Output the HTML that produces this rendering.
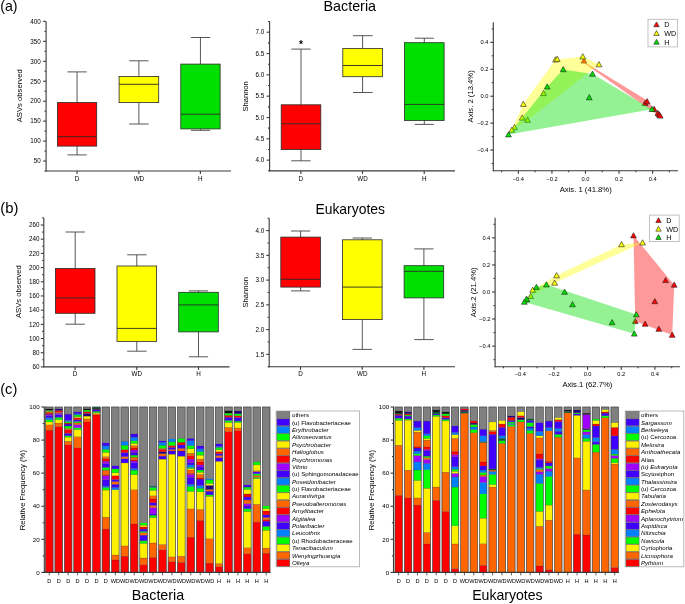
<!DOCTYPE html>
<html lang="en"><head><meta charset="utf-8"><title>Figure</title>
<style>
html,body{margin:0;padding:0;background:#fff;}
body{width:685px;height:604px;overflow:hidden;font-family:"Liberation Sans", Arial, sans-serif;}
svg{display:block;font-family:"Liberation Sans", Arial, sans-serif;}
</style></head><body>
<svg width="685" height="604" viewBox="0 0 685 604">
<defs><filter id="soft" x="0" y="0" width="100%" height="100%" filterUnits="userSpaceOnUse" color-interpolation-filters="sRGB"><feGaussianBlur stdDeviation="0.36"/></filter></defs>
<rect width="685" height="604" fill="#ffffff"/>
<g filter="url(#soft)">
<rect width="685" height="604" fill="#ffffff"/>
<line x1="77.05" y1="71.90" x2="77.05" y2="102.60" stroke="#444" stroke-width="0.9"/>
<line x1="77.05" y1="146.10" x2="77.05" y2="154.90" stroke="#444" stroke-width="0.9"/>
<line x1="67.40" y1="71.90" x2="86.70" y2="71.90" stroke="#444" stroke-width="0.9"/>
<line x1="67.40" y1="154.90" x2="86.70" y2="154.90" stroke="#444" stroke-width="0.9"/>
<rect x="57.40" y="102.60" width="39.30" height="43.50" fill="#ff0000" stroke="#2a2a2a" stroke-width="0.8"/>
<line x1="57.40" y1="136.70" x2="96.70" y2="136.70" stroke="#2a2a2a" stroke-width="0.9"/>
<line x1="138.90" y1="60.80" x2="138.90" y2="76.40" stroke="#444" stroke-width="0.9"/>
<line x1="138.90" y1="102.60" x2="138.90" y2="124.00" stroke="#444" stroke-width="0.9"/>
<line x1="129.20" y1="60.80" x2="148.60" y2="60.80" stroke="#444" stroke-width="0.9"/>
<line x1="129.20" y1="124.00" x2="148.60" y2="124.00" stroke="#444" stroke-width="0.9"/>
<rect x="119.10" y="76.40" width="39.60" height="26.20" fill="#ffff00" stroke="#2a2a2a" stroke-width="0.8"/>
<line x1="119.10" y1="84.30" x2="158.70" y2="84.30" stroke="#2a2a2a" stroke-width="0.9"/>
<line x1="200.45" y1="37.50" x2="200.45" y2="64.10" stroke="#444" stroke-width="0.9"/>
<line x1="200.45" y1="128.90" x2="200.45" y2="130.30" stroke="#444" stroke-width="0.9"/>
<line x1="190.90" y1="37.50" x2="210.20" y2="37.50" stroke="#444" stroke-width="0.9"/>
<line x1="190.90" y1="130.30" x2="210.20" y2="130.30" stroke="#444" stroke-width="0.9"/>
<rect x="180.80" y="64.10" width="39.30" height="64.80" fill="#00e000" stroke="#2a2a2a" stroke-width="0.8"/>
<line x1="180.80" y1="114.20" x2="220.10" y2="114.20" stroke="#2a2a2a" stroke-width="0.9"/>
<line x1="46.10" y1="21.40" x2="46.10" y2="171.45" stroke="#3a3a3a" stroke-width="1.1"/>
<line x1="45.65" y1="171.00" x2="231.00" y2="171.00" stroke="#3a3a3a" stroke-width="1.1"/>
<line x1="43.10" y1="21.40" x2="46.10" y2="21.40" stroke="#3a3a3a" stroke-width="1.1"/>
<text x="40.70" y="23.65" font-size="6.3" text-anchor="end" fill="#000000">400</text>
<line x1="43.10" y1="41.35" x2="46.10" y2="41.35" stroke="#3a3a3a" stroke-width="1.1"/>
<text x="40.70" y="43.60" font-size="6.3" text-anchor="end" fill="#000000">350</text>
<line x1="43.10" y1="61.30" x2="46.10" y2="61.30" stroke="#3a3a3a" stroke-width="1.1"/>
<text x="40.70" y="63.55" font-size="6.3" text-anchor="end" fill="#000000">300</text>
<line x1="43.10" y1="81.25" x2="46.10" y2="81.25" stroke="#3a3a3a" stroke-width="1.1"/>
<text x="40.70" y="83.50" font-size="6.3" text-anchor="end" fill="#000000">250</text>
<line x1="43.10" y1="101.20" x2="46.10" y2="101.20" stroke="#3a3a3a" stroke-width="1.1"/>
<text x="40.70" y="103.45" font-size="6.3" text-anchor="end" fill="#000000">200</text>
<line x1="43.10" y1="121.15" x2="46.10" y2="121.15" stroke="#3a3a3a" stroke-width="1.1"/>
<text x="40.70" y="123.40" font-size="6.3" text-anchor="end" fill="#000000">150</text>
<line x1="43.10" y1="141.10" x2="46.10" y2="141.10" stroke="#3a3a3a" stroke-width="1.1"/>
<text x="40.70" y="143.35" font-size="6.3" text-anchor="end" fill="#000000">100</text>
<line x1="43.10" y1="161.05" x2="46.10" y2="161.05" stroke="#3a3a3a" stroke-width="1.1"/>
<text x="40.70" y="163.30" font-size="6.3" text-anchor="end" fill="#000000">50</text>
<line x1="44.50" y1="31.38" x2="46.10" y2="31.38" stroke="#3a3a3a" stroke-width="1.1"/>
<line x1="44.50" y1="51.33" x2="46.10" y2="51.33" stroke="#3a3a3a" stroke-width="1.1"/>
<line x1="44.50" y1="71.28" x2="46.10" y2="71.28" stroke="#3a3a3a" stroke-width="1.1"/>
<line x1="44.50" y1="91.22" x2="46.10" y2="91.22" stroke="#3a3a3a" stroke-width="1.1"/>
<line x1="44.50" y1="111.18" x2="46.10" y2="111.18" stroke="#3a3a3a" stroke-width="1.1"/>
<line x1="44.50" y1="131.12" x2="46.10" y2="131.12" stroke="#3a3a3a" stroke-width="1.1"/>
<line x1="44.50" y1="151.08" x2="46.10" y2="151.08" stroke="#3a3a3a" stroke-width="1.1"/>
<line x1="44.50" y1="171.03" x2="46.10" y2="171.03" stroke="#3a3a3a" stroke-width="1.1"/>
<line x1="77.00" y1="171.00" x2="77.00" y2="174.00" stroke="#3a3a3a" stroke-width="1.1"/>
<text x="77.00" y="180.95" font-size="6.3" text-anchor="middle" fill="#000000">D</text>
<line x1="138.90" y1="171.00" x2="138.90" y2="174.00" stroke="#3a3a3a" stroke-width="1.1"/>
<text x="138.90" y="180.95" font-size="6.3" text-anchor="middle" fill="#000000">WD</text>
<line x1="200.40" y1="171.00" x2="200.40" y2="174.00" stroke="#3a3a3a" stroke-width="1.1"/>
<text x="200.40" y="180.95" font-size="6.3" text-anchor="middle" fill="#000000">H</text>
<text x="22.50" y="95.80" font-size="7.7" text-anchor="middle" fill="#000000" transform="rotate(-90 22.50 95.80)">ASVs observed</text>
<line x1="301.00" y1="49.10" x2="301.00" y2="104.80" stroke="#444" stroke-width="0.9"/>
<line x1="301.00" y1="149.60" x2="301.00" y2="160.80" stroke="#444" stroke-width="0.9"/>
<line x1="291.30" y1="49.10" x2="310.60" y2="49.10" stroke="#444" stroke-width="0.9"/>
<line x1="291.30" y1="160.80" x2="310.60" y2="160.80" stroke="#444" stroke-width="0.9"/>
<rect x="281.20" y="104.80" width="39.60" height="44.80" fill="#ff0000" stroke="#2a2a2a" stroke-width="0.8"/>
<line x1="281.20" y1="123.70" x2="320.80" y2="123.70" stroke="#2a2a2a" stroke-width="0.9"/>
<line x1="362.60" y1="35.70" x2="362.60" y2="48.40" stroke="#444" stroke-width="0.9"/>
<line x1="362.60" y1="76.70" x2="362.60" y2="92.50" stroke="#444" stroke-width="0.9"/>
<line x1="353.00" y1="35.70" x2="372.60" y2="35.70" stroke="#444" stroke-width="0.9"/>
<line x1="353.00" y1="92.50" x2="372.60" y2="92.50" stroke="#444" stroke-width="0.9"/>
<rect x="342.80" y="48.40" width="39.60" height="28.30" fill="#ffff00" stroke="#2a2a2a" stroke-width="0.8"/>
<line x1="342.80" y1="65.50" x2="382.40" y2="65.50" stroke="#2a2a2a" stroke-width="0.9"/>
<line x1="424.30" y1="38.20" x2="424.30" y2="42.70" stroke="#444" stroke-width="0.9"/>
<line x1="424.30" y1="120.50" x2="424.30" y2="124.40" stroke="#444" stroke-width="0.9"/>
<line x1="414.70" y1="38.20" x2="433.90" y2="38.20" stroke="#444" stroke-width="0.9"/>
<line x1="414.70" y1="124.40" x2="433.90" y2="124.40" stroke="#444" stroke-width="0.9"/>
<rect x="404.50" y="42.70" width="39.60" height="77.80" fill="#00e000" stroke="#2a2a2a" stroke-width="0.8"/>
<line x1="404.50" y1="104.40" x2="444.10" y2="104.40" stroke="#2a2a2a" stroke-width="0.9"/>
<line x1="269.60" y1="21.60" x2="269.60" y2="171.35" stroke="#3a3a3a" stroke-width="1.1"/>
<line x1="269.15" y1="170.90" x2="455.00" y2="170.90" stroke="#3a3a3a" stroke-width="1.1"/>
<line x1="266.60" y1="32.20" x2="269.60" y2="32.20" stroke="#3a3a3a" stroke-width="1.1"/>
<text x="264.20" y="34.45" font-size="6.3" text-anchor="end" fill="#000000">7.0</text>
<line x1="266.60" y1="53.53" x2="269.60" y2="53.53" stroke="#3a3a3a" stroke-width="1.1"/>
<text x="264.20" y="55.78" font-size="6.3" text-anchor="end" fill="#000000">6.5</text>
<line x1="266.60" y1="74.85" x2="269.60" y2="74.85" stroke="#3a3a3a" stroke-width="1.1"/>
<text x="264.20" y="77.10" font-size="6.3" text-anchor="end" fill="#000000">6.0</text>
<line x1="266.60" y1="96.17" x2="269.60" y2="96.17" stroke="#3a3a3a" stroke-width="1.1"/>
<text x="264.20" y="98.42" font-size="6.3" text-anchor="end" fill="#000000">5.5</text>
<line x1="266.60" y1="117.50" x2="269.60" y2="117.50" stroke="#3a3a3a" stroke-width="1.1"/>
<text x="264.20" y="119.75" font-size="6.3" text-anchor="end" fill="#000000">5.0</text>
<line x1="266.60" y1="138.82" x2="269.60" y2="138.82" stroke="#3a3a3a" stroke-width="1.1"/>
<text x="264.20" y="141.07" font-size="6.3" text-anchor="end" fill="#000000">4.5</text>
<line x1="266.60" y1="160.15" x2="269.60" y2="160.15" stroke="#3a3a3a" stroke-width="1.1"/>
<text x="264.20" y="162.40" font-size="6.3" text-anchor="end" fill="#000000">4.0</text>
<line x1="268.00" y1="21.54" x2="269.60" y2="21.54" stroke="#3a3a3a" stroke-width="1.1"/>
<line x1="268.00" y1="42.86" x2="269.60" y2="42.86" stroke="#3a3a3a" stroke-width="1.1"/>
<line x1="268.00" y1="64.19" x2="269.60" y2="64.19" stroke="#3a3a3a" stroke-width="1.1"/>
<line x1="268.00" y1="85.51" x2="269.60" y2="85.51" stroke="#3a3a3a" stroke-width="1.1"/>
<line x1="268.00" y1="106.84" x2="269.60" y2="106.84" stroke="#3a3a3a" stroke-width="1.1"/>
<line x1="268.00" y1="128.16" x2="269.60" y2="128.16" stroke="#3a3a3a" stroke-width="1.1"/>
<line x1="268.00" y1="149.49" x2="269.60" y2="149.49" stroke="#3a3a3a" stroke-width="1.1"/>
<line x1="268.00" y1="170.81" x2="269.60" y2="170.81" stroke="#3a3a3a" stroke-width="1.1"/>
<line x1="300.90" y1="170.90" x2="300.90" y2="173.90" stroke="#3a3a3a" stroke-width="1.1"/>
<text x="300.90" y="180.95" font-size="6.3" text-anchor="middle" fill="#000000">D</text>
<line x1="362.50" y1="170.90" x2="362.50" y2="173.90" stroke="#3a3a3a" stroke-width="1.1"/>
<text x="362.50" y="180.95" font-size="6.3" text-anchor="middle" fill="#000000">WD</text>
<line x1="424.20" y1="170.90" x2="424.20" y2="173.90" stroke="#3a3a3a" stroke-width="1.1"/>
<text x="424.20" y="180.95" font-size="6.3" text-anchor="middle" fill="#000000">H</text>
<text x="247.60" y="96.40" font-size="7.6" text-anchor="middle" fill="#000000" transform="rotate(-90 247.60 96.40)">Shannon</text>
<text x="300.90" y="48.00" font-size="10" text-anchor="middle" fill="#000000" font-weight="bold">*</text>
<line x1="75.20" y1="232.00" x2="75.20" y2="268.50" stroke="#444" stroke-width="0.9"/>
<line x1="75.20" y1="313.30" x2="75.20" y2="324.20" stroke="#444" stroke-width="0.9"/>
<line x1="65.50" y1="232.00" x2="84.80" y2="232.00" stroke="#444" stroke-width="0.9"/>
<line x1="65.50" y1="324.20" x2="84.80" y2="324.20" stroke="#444" stroke-width="0.9"/>
<rect x="55.40" y="268.50" width="39.60" height="44.80" fill="#ff0000" stroke="#2a2a2a" stroke-width="0.8"/>
<line x1="55.40" y1="297.90" x2="95.00" y2="297.90" stroke="#2a2a2a" stroke-width="0.9"/>
<line x1="136.80" y1="254.80" x2="136.80" y2="266.00" stroke="#444" stroke-width="0.9"/>
<line x1="136.80" y1="341.40" x2="136.80" y2="351.20" stroke="#444" stroke-width="0.9"/>
<line x1="127.20" y1="254.80" x2="146.50" y2="254.80" stroke="#444" stroke-width="0.9"/>
<line x1="127.20" y1="351.20" x2="146.50" y2="351.20" stroke="#444" stroke-width="0.9"/>
<rect x="117.00" y="266.00" width="39.60" height="75.40" fill="#ffff00" stroke="#2a2a2a" stroke-width="0.8"/>
<line x1="117.00" y1="328.40" x2="156.60" y2="328.40" stroke="#2a2a2a" stroke-width="0.9"/>
<line x1="198.50" y1="290.90" x2="198.50" y2="292.30" stroke="#444" stroke-width="0.9"/>
<line x1="198.50" y1="331.90" x2="198.50" y2="356.80" stroke="#444" stroke-width="0.9"/>
<line x1="188.90" y1="290.90" x2="208.10" y2="290.90" stroke="#444" stroke-width="0.9"/>
<line x1="188.90" y1="356.80" x2="208.10" y2="356.80" stroke="#444" stroke-width="0.9"/>
<rect x="178.70" y="292.30" width="39.60" height="39.60" fill="#00e000" stroke="#2a2a2a" stroke-width="0.8"/>
<line x1="178.70" y1="304.90" x2="218.30" y2="304.90" stroke="#2a2a2a" stroke-width="0.9"/>
<line x1="43.80" y1="217.90" x2="43.80" y2="367.35" stroke="#3a3a3a" stroke-width="1.1"/>
<line x1="43.35" y1="366.90" x2="229.50" y2="366.90" stroke="#3a3a3a" stroke-width="1.1"/>
<line x1="40.80" y1="225.00" x2="43.80" y2="225.00" stroke="#3a3a3a" stroke-width="1.1"/>
<text x="39.40" y="227.25" font-size="6.3" text-anchor="end" fill="#000000">260</text>
<line x1="40.80" y1="239.19" x2="43.80" y2="239.19" stroke="#3a3a3a" stroke-width="1.1"/>
<text x="39.40" y="241.44" font-size="6.3" text-anchor="end" fill="#000000">240</text>
<line x1="40.80" y1="253.38" x2="43.80" y2="253.38" stroke="#3a3a3a" stroke-width="1.1"/>
<text x="39.40" y="255.63" font-size="6.3" text-anchor="end" fill="#000000">220</text>
<line x1="40.80" y1="267.57" x2="43.80" y2="267.57" stroke="#3a3a3a" stroke-width="1.1"/>
<text x="39.40" y="269.82" font-size="6.3" text-anchor="end" fill="#000000">200</text>
<line x1="40.80" y1="281.76" x2="43.80" y2="281.76" stroke="#3a3a3a" stroke-width="1.1"/>
<text x="39.40" y="284.01" font-size="6.3" text-anchor="end" fill="#000000">180</text>
<line x1="40.80" y1="295.95" x2="43.80" y2="295.95" stroke="#3a3a3a" stroke-width="1.1"/>
<text x="39.40" y="298.20" font-size="6.3" text-anchor="end" fill="#000000">160</text>
<line x1="40.80" y1="310.14" x2="43.80" y2="310.14" stroke="#3a3a3a" stroke-width="1.1"/>
<text x="39.40" y="312.39" font-size="6.3" text-anchor="end" fill="#000000">140</text>
<line x1="40.80" y1="324.33" x2="43.80" y2="324.33" stroke="#3a3a3a" stroke-width="1.1"/>
<text x="39.40" y="326.58" font-size="6.3" text-anchor="end" fill="#000000">120</text>
<line x1="40.80" y1="338.52" x2="43.80" y2="338.52" stroke="#3a3a3a" stroke-width="1.1"/>
<text x="39.40" y="340.77" font-size="6.3" text-anchor="end" fill="#000000">100</text>
<line x1="40.80" y1="352.71" x2="43.80" y2="352.71" stroke="#3a3a3a" stroke-width="1.1"/>
<text x="39.40" y="354.96" font-size="6.3" text-anchor="end" fill="#000000">80</text>
<line x1="40.80" y1="366.90" x2="43.80" y2="366.90" stroke="#3a3a3a" stroke-width="1.1"/>
<text x="39.40" y="369.15" font-size="6.3" text-anchor="end" fill="#000000">60</text>
<line x1="42.20" y1="217.90" x2="43.80" y2="217.90" stroke="#3a3a3a" stroke-width="1.1"/>
<line x1="42.20" y1="232.09" x2="43.80" y2="232.09" stroke="#3a3a3a" stroke-width="1.1"/>
<line x1="42.20" y1="246.28" x2="43.80" y2="246.28" stroke="#3a3a3a" stroke-width="1.1"/>
<line x1="42.20" y1="260.47" x2="43.80" y2="260.47" stroke="#3a3a3a" stroke-width="1.1"/>
<line x1="42.20" y1="274.66" x2="43.80" y2="274.66" stroke="#3a3a3a" stroke-width="1.1"/>
<line x1="42.20" y1="288.85" x2="43.80" y2="288.85" stroke="#3a3a3a" stroke-width="1.1"/>
<line x1="42.20" y1="303.04" x2="43.80" y2="303.04" stroke="#3a3a3a" stroke-width="1.1"/>
<line x1="42.20" y1="317.23" x2="43.80" y2="317.23" stroke="#3a3a3a" stroke-width="1.1"/>
<line x1="42.20" y1="331.42" x2="43.80" y2="331.42" stroke="#3a3a3a" stroke-width="1.1"/>
<line x1="42.20" y1="345.61" x2="43.80" y2="345.61" stroke="#3a3a3a" stroke-width="1.1"/>
<line x1="42.20" y1="359.80" x2="43.80" y2="359.80" stroke="#3a3a3a" stroke-width="1.1"/>
<line x1="75.10" y1="366.90" x2="75.10" y2="369.90" stroke="#3a3a3a" stroke-width="1.1"/>
<text x="75.10" y="376.45" font-size="6.3" text-anchor="middle" fill="#000000">D</text>
<line x1="136.80" y1="366.90" x2="136.80" y2="369.90" stroke="#3a3a3a" stroke-width="1.1"/>
<text x="136.80" y="376.45" font-size="6.3" text-anchor="middle" fill="#000000">WD</text>
<line x1="198.50" y1="366.90" x2="198.50" y2="369.90" stroke="#3a3a3a" stroke-width="1.1"/>
<text x="198.50" y="376.45" font-size="6.3" text-anchor="middle" fill="#000000">H</text>
<text x="21.10" y="291.60" font-size="7.7" text-anchor="middle" fill="#000000" transform="rotate(-90 21.10 291.60)">ASVs observed</text>
<line x1="300.60" y1="231.00" x2="300.60" y2="237.10" stroke="#444" stroke-width="0.9"/>
<line x1="300.60" y1="287.10" x2="300.60" y2="290.90" stroke="#444" stroke-width="0.9"/>
<line x1="291.00" y1="231.00" x2="310.20" y2="231.00" stroke="#444" stroke-width="0.9"/>
<line x1="291.00" y1="290.90" x2="310.20" y2="290.90" stroke="#444" stroke-width="0.9"/>
<rect x="280.80" y="237.10" width="39.60" height="50.00" fill="#ff0000" stroke="#2a2a2a" stroke-width="0.8"/>
<line x1="280.80" y1="279.30" x2="320.40" y2="279.30" stroke="#2a2a2a" stroke-width="0.9"/>
<line x1="362.30" y1="238.00" x2="362.30" y2="239.80" stroke="#444" stroke-width="0.9"/>
<line x1="362.30" y1="319.60" x2="362.30" y2="349.40" stroke="#444" stroke-width="0.9"/>
<line x1="352.60" y1="238.00" x2="371.90" y2="238.00" stroke="#444" stroke-width="0.9"/>
<line x1="352.60" y1="349.40" x2="371.90" y2="349.40" stroke="#444" stroke-width="0.9"/>
<rect x="342.50" y="239.80" width="39.60" height="79.80" fill="#ffff00" stroke="#2a2a2a" stroke-width="0.8"/>
<line x1="342.50" y1="287.10" x2="382.10" y2="287.10" stroke="#2a2a2a" stroke-width="0.9"/>
<line x1="423.90" y1="248.90" x2="423.90" y2="265.70" stroke="#444" stroke-width="0.9"/>
<line x1="423.90" y1="297.90" x2="423.90" y2="339.60" stroke="#444" stroke-width="0.9"/>
<line x1="414.30" y1="248.90" x2="433.60" y2="248.90" stroke="#444" stroke-width="0.9"/>
<line x1="414.30" y1="339.60" x2="433.60" y2="339.60" stroke="#444" stroke-width="0.9"/>
<rect x="404.10" y="265.70" width="39.60" height="32.20" fill="#00e000" stroke="#2a2a2a" stroke-width="0.8"/>
<line x1="404.10" y1="271.30" x2="443.70" y2="271.30" stroke="#2a2a2a" stroke-width="0.9"/>
<line x1="269.20" y1="218.20" x2="269.20" y2="367.25" stroke="#3a3a3a" stroke-width="1.1"/>
<line x1="268.75" y1="366.80" x2="455.00" y2="366.80" stroke="#3a3a3a" stroke-width="1.1"/>
<line x1="266.20" y1="230.60" x2="269.20" y2="230.60" stroke="#3a3a3a" stroke-width="1.1"/>
<text x="264.30" y="232.85" font-size="6.3" text-anchor="end" fill="#000000">4.0</text>
<line x1="266.20" y1="255.35" x2="269.20" y2="255.35" stroke="#3a3a3a" stroke-width="1.1"/>
<text x="264.30" y="257.60" font-size="6.3" text-anchor="end" fill="#000000">3.5</text>
<line x1="266.20" y1="280.10" x2="269.20" y2="280.10" stroke="#3a3a3a" stroke-width="1.1"/>
<text x="264.30" y="282.35" font-size="6.3" text-anchor="end" fill="#000000">3.0</text>
<line x1="266.20" y1="304.85" x2="269.20" y2="304.85" stroke="#3a3a3a" stroke-width="1.1"/>
<text x="264.30" y="307.10" font-size="6.3" text-anchor="end" fill="#000000">2.5</text>
<line x1="266.20" y1="329.60" x2="269.20" y2="329.60" stroke="#3a3a3a" stroke-width="1.1"/>
<text x="264.30" y="331.85" font-size="6.3" text-anchor="end" fill="#000000">2.0</text>
<line x1="266.20" y1="354.35" x2="269.20" y2="354.35" stroke="#3a3a3a" stroke-width="1.1"/>
<text x="264.30" y="356.60" font-size="6.3" text-anchor="end" fill="#000000">1.5</text>
<line x1="267.60" y1="218.22" x2="269.20" y2="218.22" stroke="#3a3a3a" stroke-width="1.1"/>
<line x1="267.60" y1="242.97" x2="269.20" y2="242.97" stroke="#3a3a3a" stroke-width="1.1"/>
<line x1="267.60" y1="267.73" x2="269.20" y2="267.73" stroke="#3a3a3a" stroke-width="1.1"/>
<line x1="267.60" y1="292.48" x2="269.20" y2="292.48" stroke="#3a3a3a" stroke-width="1.1"/>
<line x1="267.60" y1="317.23" x2="269.20" y2="317.23" stroke="#3a3a3a" stroke-width="1.1"/>
<line x1="267.60" y1="341.98" x2="269.20" y2="341.98" stroke="#3a3a3a" stroke-width="1.1"/>
<line x1="267.60" y1="366.73" x2="269.20" y2="366.73" stroke="#3a3a3a" stroke-width="1.1"/>
<line x1="300.50" y1="366.80" x2="300.50" y2="369.80" stroke="#3a3a3a" stroke-width="1.1"/>
<text x="300.50" y="376.45" font-size="6.3" text-anchor="middle" fill="#000000">D</text>
<line x1="362.20" y1="366.80" x2="362.20" y2="369.80" stroke="#3a3a3a" stroke-width="1.1"/>
<text x="362.20" y="376.45" font-size="6.3" text-anchor="middle" fill="#000000">WD</text>
<line x1="423.90" y1="366.80" x2="423.90" y2="369.80" stroke="#3a3a3a" stroke-width="1.1"/>
<text x="423.90" y="376.45" font-size="6.3" text-anchor="middle" fill="#000000">H</text>
<text x="247.60" y="292.30" font-size="7.6" text-anchor="middle" fill="#000000" transform="rotate(-90 247.60 292.30)">Shannon</text>
<text x="0.20" y="10.80" font-size="14.2" text-anchor="start" fill="#000000">(a)</text>
<text x="0.20" y="213.30" font-size="14.9" text-anchor="start" fill="#000000">(b)</text>
<text x="0.20" y="394.00" font-size="14.7" text-anchor="start" fill="#000000">(c)</text>
<text x="349.80" y="10.90" font-size="14.3" text-anchor="middle" fill="#000000">Bacteria</text>
<text x="350.20" y="213.80" font-size="13.9" text-anchor="middle" fill="#000000">Eukaryotes</text>
<text x="158.00" y="600.00" font-size="14.3" text-anchor="middle" fill="#000000">Bacteria</text>
<text x="507.40" y="600.00" font-size="14.1" text-anchor="middle" fill="#000000">Eukaryotes</text>
<polygon points="583.6,61.4 647.3,100.5 660.6,117.1 584.2,63.2" fill="#ff0000" fill-opacity="0.4"/>
<path d="M583.90 57.90 L586.80 63.12 L581.00 63.12 Z" fill="#ff0000" stroke="#222" stroke-width="0.6" stroke-linejoin="miter"/>
<path d="M645.10 100.30 L648.00 105.52 L642.20 105.52 Z" fill="#ff0000" stroke="#222" stroke-width="0.6" stroke-linejoin="miter"/>
<path d="M647.10 98.60 L650.00 103.82 L644.20 103.82 Z" fill="#ff0000" stroke="#222" stroke-width="0.6" stroke-linejoin="miter"/>
<path d="M654.20 106.30 L657.10 111.52 L651.30 111.52 Z" fill="#ff0000" stroke="#222" stroke-width="0.6" stroke-linejoin="miter"/>
<path d="M657.90 110.30 L660.80 115.52 L655.00 115.52 Z" fill="#ff0000" stroke="#222" stroke-width="0.6" stroke-linejoin="miter"/>
<path d="M659.10 111.70 L662.00 116.92 L656.20 116.92 Z" fill="#ff0000" stroke="#222" stroke-width="0.6" stroke-linejoin="miter"/>
<path d="M660.20 112.90 L663.10 118.12 L657.30 118.12 Z" fill="#ff0000" stroke="#222" stroke-width="0.6" stroke-linejoin="miter"/>
<polygon points="511.9,130.0 523.3,104.1 555.5,59.7 582.8,56.6 599.0,64.5 527.6,120.0" fill="#ffff00" fill-opacity="0.4"/>
<path d="M555.50 56.80 L558.40 62.02 L552.60 62.02 Z" fill="#ffff00" stroke="#222" stroke-width="0.6" stroke-linejoin="miter"/>
<path d="M557.20 56.20 L560.10 61.42 L554.30 61.42 Z" fill="#ffff00" stroke="#222" stroke-width="0.6" stroke-linejoin="miter"/>
<path d="M582.80 53.70 L585.70 58.92 L579.90 58.92 Z" fill="#ffff00" stroke="#222" stroke-width="0.6" stroke-linejoin="miter"/>
<path d="M599.00 61.60 L601.90 66.82 L596.10 66.82 Z" fill="#ffff00" stroke="#222" stroke-width="0.6" stroke-linejoin="miter"/>
<path d="M543.50 90.40 L546.40 95.62 L540.60 95.62 Z" fill="#ffff00" stroke="#222" stroke-width="0.6" stroke-linejoin="miter"/>
<path d="M523.30 101.20 L526.20 106.42 L520.40 106.42 Z" fill="#ffff00" stroke="#222" stroke-width="0.6" stroke-linejoin="miter"/>
<path d="M522.20 114.90 L525.10 120.12 L519.30 120.12 Z" fill="#ffff00" stroke="#222" stroke-width="0.6" stroke-linejoin="miter"/>
<path d="M527.60 117.10 L530.50 122.32 L524.70 122.32 Z" fill="#ffff00" stroke="#222" stroke-width="0.6" stroke-linejoin="miter"/>
<path d="M514.50 124.50 L517.40 129.72 L511.60 129.72 Z" fill="#ffff00" stroke="#222" stroke-width="0.6" stroke-linejoin="miter"/>
<path d="M511.90 127.10 L514.80 132.32 L509.00 132.32 Z" fill="#ffff00" stroke="#222" stroke-width="0.6" stroke-linejoin="miter"/>
<polygon points="508.5,134.6 547.2,86.7 563.2,69.4 592.5,73.9 652.0,109.2" fill="#00e000" fill-opacity="0.42"/>
<path d="M563.20 66.50 L566.10 71.72 L560.30 71.72 Z" fill="#00e000" stroke="#222" stroke-width="0.6" stroke-linejoin="miter"/>
<path d="M592.50 71.00 L595.40 76.22 L589.60 76.22 Z" fill="#00e000" stroke="#222" stroke-width="0.6" stroke-linejoin="miter"/>
<path d="M547.20 83.80 L550.10 89.02 L544.30 89.02 Z" fill="#00e000" stroke="#222" stroke-width="0.6" stroke-linejoin="miter"/>
<path d="M589.30 94.60 L592.20 99.82 L586.40 99.82 Z" fill="#00e000" stroke="#222" stroke-width="0.6" stroke-linejoin="miter"/>
<path d="M652.00 106.30 L654.90 111.52 L649.10 111.52 Z" fill="#00e000" stroke="#222" stroke-width="0.6" stroke-linejoin="miter"/>
<path d="M508.50 131.70 L511.40 136.92 L505.60 136.92 Z" fill="#00e000" stroke="#222" stroke-width="0.6" stroke-linejoin="miter"/>
<line x1="493.30" y1="22.20" x2="493.30" y2="171.15" stroke="#3a3a3a" stroke-width="1.1"/>
<line x1="492.85" y1="170.70" x2="678.00" y2="170.70" stroke="#3a3a3a" stroke-width="1.1"/>
<line x1="490.30" y1="150.04" x2="493.30" y2="150.04" stroke="#3a3a3a" stroke-width="1.1"/>
<text x="488.40" y="152.14" font-size="5.7" text-anchor="end" fill="#000000">−0.4</text>
<line x1="518.38" y1="170.70" x2="518.38" y2="173.70" stroke="#3a3a3a" stroke-width="1.1"/>
<text x="518.38" y="180.60" font-size="5.7" text-anchor="middle" fill="#000000">−0.4</text>
<line x1="490.30" y1="123.12" x2="493.30" y2="123.12" stroke="#3a3a3a" stroke-width="1.1"/>
<text x="488.40" y="125.22" font-size="5.7" text-anchor="end" fill="#000000">−0.2</text>
<line x1="551.94" y1="170.70" x2="551.94" y2="173.70" stroke="#3a3a3a" stroke-width="1.1"/>
<text x="551.94" y="180.60" font-size="5.7" text-anchor="middle" fill="#000000">−0.2</text>
<line x1="490.30" y1="96.20" x2="493.30" y2="96.20" stroke="#3a3a3a" stroke-width="1.1"/>
<text x="488.40" y="98.30" font-size="5.7" text-anchor="end" fill="#000000">0.0</text>
<line x1="585.50" y1="170.70" x2="585.50" y2="173.70" stroke="#3a3a3a" stroke-width="1.1"/>
<text x="585.50" y="180.60" font-size="5.7" text-anchor="middle" fill="#000000">0.0</text>
<line x1="490.30" y1="69.28" x2="493.30" y2="69.28" stroke="#3a3a3a" stroke-width="1.1"/>
<text x="488.40" y="71.38" font-size="5.7" text-anchor="end" fill="#000000">0.2</text>
<line x1="619.06" y1="170.70" x2="619.06" y2="173.70" stroke="#3a3a3a" stroke-width="1.1"/>
<text x="619.06" y="180.60" font-size="5.7" text-anchor="middle" fill="#000000">0.2</text>
<line x1="490.30" y1="42.36" x2="493.30" y2="42.36" stroke="#3a3a3a" stroke-width="1.1"/>
<text x="488.40" y="44.46" font-size="5.7" text-anchor="end" fill="#000000">0.4</text>
<line x1="652.62" y1="170.70" x2="652.62" y2="173.70" stroke="#3a3a3a" stroke-width="1.1"/>
<text x="652.62" y="180.60" font-size="5.7" text-anchor="middle" fill="#000000">0.4</text>
<line x1="491.70" y1="163.50" x2="493.30" y2="163.50" stroke="#3a3a3a" stroke-width="1.1"/>
<line x1="501.60" y1="170.70" x2="501.60" y2="172.30" stroke="#3a3a3a" stroke-width="1.1"/>
<line x1="491.70" y1="136.58" x2="493.30" y2="136.58" stroke="#3a3a3a" stroke-width="1.1"/>
<line x1="535.16" y1="170.70" x2="535.16" y2="172.30" stroke="#3a3a3a" stroke-width="1.1"/>
<line x1="491.70" y1="109.66" x2="493.30" y2="109.66" stroke="#3a3a3a" stroke-width="1.1"/>
<line x1="568.72" y1="170.70" x2="568.72" y2="172.30" stroke="#3a3a3a" stroke-width="1.1"/>
<line x1="491.70" y1="82.74" x2="493.30" y2="82.74" stroke="#3a3a3a" stroke-width="1.1"/>
<line x1="602.28" y1="170.70" x2="602.28" y2="172.30" stroke="#3a3a3a" stroke-width="1.1"/>
<line x1="491.70" y1="55.82" x2="493.30" y2="55.82" stroke="#3a3a3a" stroke-width="1.1"/>
<line x1="635.84" y1="170.70" x2="635.84" y2="172.30" stroke="#3a3a3a" stroke-width="1.1"/>
<line x1="491.70" y1="28.90" x2="493.30" y2="28.90" stroke="#3a3a3a" stroke-width="1.1"/>
<line x1="669.40" y1="170.70" x2="669.40" y2="172.30" stroke="#3a3a3a" stroke-width="1.1"/>
<text x="585.70" y="192.00" font-size="7.7" text-anchor="middle" fill="#000000">Axis. 1 (41.8%)</text>
<text x="473.20" y="96.30" font-size="7.7" text-anchor="middle" fill="#000000" transform="rotate(-90 473.20 96.30)">Axis. 2 (13.4%)</text>
<rect x="648" y="19.3" width="29.4" height="27.6" fill="#fff" stroke="#b4b4b4" stroke-width="0.8"/>
<path d="M656.50 21.90 L659.20 26.76 L653.80 26.76 Z" fill="#ff0000" stroke="#222" stroke-width="0.6" stroke-linejoin="miter"/>
<text x="664.20" y="27.20" font-size="7.2" text-anchor="start" fill="#000000">D</text>
<path d="M656.50 30.60 L659.20 35.46 L653.80 35.46 Z" fill="#ffff00" stroke="#222" stroke-width="0.6" stroke-linejoin="miter"/>
<text x="664.20" y="35.90" font-size="7.2" text-anchor="start" fill="#000000">WD</text>
<path d="M656.50 39.30 L659.20 44.16 L653.80 44.16 Z" fill="#00e000" stroke="#222" stroke-width="0.6" stroke-linejoin="miter"/>
<text x="664.20" y="44.60" font-size="7.2" text-anchor="start" fill="#000000">H</text>
<polygon points="633.5,235.6 674.2,284.9 672.2,335.0 635.2,321.3" fill="#ff0000" fill-opacity="0.4"/>
<path d="M633.50 232.70 L636.40 237.92 L630.60 237.92 Z" fill="#ff0000" stroke="#222" stroke-width="0.6" stroke-linejoin="miter"/>
<path d="M665.60 277.40 L668.50 282.62 L662.70 282.62 Z" fill="#ff0000" stroke="#222" stroke-width="0.6" stroke-linejoin="miter"/>
<path d="M674.20 282.00 L677.10 287.22 L671.30 287.22 Z" fill="#ff0000" stroke="#222" stroke-width="0.6" stroke-linejoin="miter"/>
<path d="M654.80 298.50 L657.70 303.72 L651.90 303.72 Z" fill="#ff0000" stroke="#222" stroke-width="0.6" stroke-linejoin="miter"/>
<path d="M635.20 318.40 L638.10 323.62 L632.30 323.62 Z" fill="#ff0000" stroke="#222" stroke-width="0.6" stroke-linejoin="miter"/>
<path d="M645.10 321.00 L648.00 326.22 L642.20 326.22 Z" fill="#ff0000" stroke="#222" stroke-width="0.6" stroke-linejoin="miter"/>
<path d="M658.80 326.10 L661.70 331.32 L655.90 331.32 Z" fill="#ff0000" stroke="#222" stroke-width="0.6" stroke-linejoin="miter"/>
<path d="M672.20 332.10 L675.10 337.32 L669.30 337.32 Z" fill="#ff0000" stroke="#222" stroke-width="0.6" stroke-linejoin="miter"/>
<polygon points="527.0,299.7 532.7,290.0 556.6,275.5 621.5,244.4 642.6,242.7 554.6,282.9 530.7,296.2" fill="#ffff00" fill-opacity="0.4"/>
<path d="M621.50 241.50 L624.40 246.72 L618.60 246.72 Z" fill="#ffff00" stroke="#222" stroke-width="0.6" stroke-linejoin="miter"/>
<path d="M642.60 239.80 L645.50 245.02 L639.70 245.02 Z" fill="#ffff00" stroke="#222" stroke-width="0.6" stroke-linejoin="miter"/>
<path d="M556.60 272.60 L559.50 277.82 L553.70 277.82 Z" fill="#ffff00" stroke="#222" stroke-width="0.6" stroke-linejoin="miter"/>
<path d="M554.60 280.00 L557.50 285.22 L551.70 285.22 Z" fill="#ffff00" stroke="#222" stroke-width="0.6" stroke-linejoin="miter"/>
<path d="M532.70 287.10 L535.60 292.32 L529.80 292.32 Z" fill="#ffff00" stroke="#222" stroke-width="0.6" stroke-linejoin="miter"/>
<path d="M530.70 293.30 L533.60 298.52 L527.80 298.52 Z" fill="#ffff00" stroke="#222" stroke-width="0.6" stroke-linejoin="miter"/>
<path d="M527.00 296.80 L529.90 302.02 L524.10 302.02 Z" fill="#ffff00" stroke="#222" stroke-width="0.6" stroke-linejoin="miter"/>
<polygon points="524.4,301.9 536.4,287.1 546.4,284.6 636.3,314.5 634.3,333.8" fill="#00e000" fill-opacity="0.42"/>
<path d="M536.40 284.20 L539.30 289.42 L533.50 289.42 Z" fill="#00e000" stroke="#222" stroke-width="0.6" stroke-linejoin="miter"/>
<path d="M546.40 281.70 L549.30 286.92 L543.50 286.92 Z" fill="#00e000" stroke="#222" stroke-width="0.6" stroke-linejoin="miter"/>
<path d="M564.60 289.10 L567.50 294.32 L561.70 294.32 Z" fill="#00e000" stroke="#222" stroke-width="0.6" stroke-linejoin="miter"/>
<path d="M572.50 301.60 L575.40 306.82 L569.60 306.82 Z" fill="#00e000" stroke="#222" stroke-width="0.6" stroke-linejoin="miter"/>
<path d="M612.10 319.50 L615.00 324.72 L609.20 324.72 Z" fill="#00e000" stroke="#222" stroke-width="0.6" stroke-linejoin="miter"/>
<path d="M636.30 311.60 L639.20 316.82 L633.40 316.82 Z" fill="#00e000" stroke="#222" stroke-width="0.6" stroke-linejoin="miter"/>
<path d="M634.30 330.90 L637.20 336.12 L631.40 336.12 Z" fill="#00e000" stroke="#222" stroke-width="0.6" stroke-linejoin="miter"/>
<path d="M526.40 296.20 L529.30 301.42 L523.50 301.42 Z" fill="#00e000" stroke="#222" stroke-width="0.6" stroke-linejoin="miter"/>
<path d="M524.40 299.00 L527.30 304.22 L521.50 304.22 Z" fill="#00e000" stroke="#222" stroke-width="0.6" stroke-linejoin="miter"/>
<line x1="495.10" y1="217.80" x2="495.10" y2="367.15" stroke="#3a3a3a" stroke-width="1.1"/>
<line x1="494.65" y1="366.70" x2="680.00" y2="366.70" stroke="#3a3a3a" stroke-width="1.1"/>
<line x1="492.10" y1="346.12" x2="495.10" y2="346.12" stroke="#3a3a3a" stroke-width="1.1"/>
<text x="490.30" y="348.22" font-size="5.7" text-anchor="end" fill="#000000">−0.4</text>
<line x1="520.32" y1="366.70" x2="520.32" y2="369.70" stroke="#3a3a3a" stroke-width="1.1"/>
<text x="520.32" y="376.40" font-size="5.7" text-anchor="middle" fill="#000000">−0.4</text>
<line x1="492.10" y1="319.06" x2="495.10" y2="319.06" stroke="#3a3a3a" stroke-width="1.1"/>
<text x="490.30" y="321.16" font-size="5.7" text-anchor="end" fill="#000000">−0.2</text>
<line x1="553.96" y1="366.70" x2="553.96" y2="369.70" stroke="#3a3a3a" stroke-width="1.1"/>
<text x="553.96" y="376.40" font-size="5.7" text-anchor="middle" fill="#000000">−0.2</text>
<line x1="492.10" y1="292.00" x2="495.10" y2="292.00" stroke="#3a3a3a" stroke-width="1.1"/>
<text x="490.30" y="294.10" font-size="5.7" text-anchor="end" fill="#000000">0.0</text>
<line x1="587.60" y1="366.70" x2="587.60" y2="369.70" stroke="#3a3a3a" stroke-width="1.1"/>
<text x="587.60" y="376.40" font-size="5.7" text-anchor="middle" fill="#000000">0.0</text>
<line x1="492.10" y1="264.94" x2="495.10" y2="264.94" stroke="#3a3a3a" stroke-width="1.1"/>
<text x="490.30" y="267.04" font-size="5.7" text-anchor="end" fill="#000000">0.2</text>
<line x1="621.24" y1="366.70" x2="621.24" y2="369.70" stroke="#3a3a3a" stroke-width="1.1"/>
<text x="621.24" y="376.40" font-size="5.7" text-anchor="middle" fill="#000000">0.2</text>
<line x1="492.10" y1="237.88" x2="495.10" y2="237.88" stroke="#3a3a3a" stroke-width="1.1"/>
<text x="490.30" y="239.98" font-size="5.7" text-anchor="end" fill="#000000">0.4</text>
<line x1="654.88" y1="366.70" x2="654.88" y2="369.70" stroke="#3a3a3a" stroke-width="1.1"/>
<text x="654.88" y="376.40" font-size="5.7" text-anchor="middle" fill="#000000">0.4</text>
<line x1="493.50" y1="359.65" x2="495.10" y2="359.65" stroke="#3a3a3a" stroke-width="1.1"/>
<line x1="503.50" y1="366.70" x2="503.50" y2="368.30" stroke="#3a3a3a" stroke-width="1.1"/>
<line x1="493.50" y1="332.59" x2="495.10" y2="332.59" stroke="#3a3a3a" stroke-width="1.1"/>
<line x1="537.14" y1="366.70" x2="537.14" y2="368.30" stroke="#3a3a3a" stroke-width="1.1"/>
<line x1="493.50" y1="305.53" x2="495.10" y2="305.53" stroke="#3a3a3a" stroke-width="1.1"/>
<line x1="570.78" y1="366.70" x2="570.78" y2="368.30" stroke="#3a3a3a" stroke-width="1.1"/>
<line x1="493.50" y1="278.47" x2="495.10" y2="278.47" stroke="#3a3a3a" stroke-width="1.1"/>
<line x1="604.42" y1="366.70" x2="604.42" y2="368.30" stroke="#3a3a3a" stroke-width="1.1"/>
<line x1="493.50" y1="251.41" x2="495.10" y2="251.41" stroke="#3a3a3a" stroke-width="1.1"/>
<line x1="638.06" y1="366.70" x2="638.06" y2="368.30" stroke="#3a3a3a" stroke-width="1.1"/>
<line x1="493.50" y1="224.35" x2="495.10" y2="224.35" stroke="#3a3a3a" stroke-width="1.1"/>
<line x1="671.70" y1="366.70" x2="671.70" y2="368.30" stroke="#3a3a3a" stroke-width="1.1"/>
<text x="587.40" y="387.30" font-size="7.7" text-anchor="middle" fill="#000000">Axis.1 (62.7%)</text>
<text x="475.90" y="292.30" font-size="7.7" text-anchor="middle" fill="#000000" transform="rotate(-90 475.90 292.30)">Axis.2 (21.4%)</text>
<rect x="649.4" y="215.1" width="29.8" height="26.5" fill="#fff" stroke="#b4b4b4" stroke-width="0.8"/>
<path d="M658.50 217.70 L661.20 222.56 L655.80 222.56 Z" fill="#ff0000" stroke="#222" stroke-width="0.6" stroke-linejoin="miter"/>
<text x="666.20" y="223.00" font-size="7.2" text-anchor="start" fill="#000000">D</text>
<path d="M658.50 226.30 L661.20 231.16 L655.80 231.16 Z" fill="#ffff00" stroke="#222" stroke-width="0.6" stroke-linejoin="miter"/>
<text x="666.20" y="231.60" font-size="7.2" text-anchor="start" fill="#000000">WD</text>
<path d="M658.50 234.60 L661.20 239.46 L655.80 239.46 Z" fill="#00e000" stroke="#222" stroke-width="0.6" stroke-linejoin="miter"/>
<text x="666.20" y="239.90" font-size="7.2" text-anchor="start" fill="#000000">H</text>
<rect x="45.50" y="430.16" width="7.6" height="142.24" fill="#ff0000" stroke="#333" stroke-opacity="0.55" stroke-width="0.35"/>
<rect x="45.50" y="424.86" width="7.6" height="5.29" fill="#ff6600" stroke="#333" stroke-opacity="0.55" stroke-width="0.35"/>
<rect x="45.50" y="421.89" width="7.6" height="2.98" fill="#fff000" stroke="#333" stroke-opacity="0.55" stroke-width="0.35"/>
<rect x="45.50" y="419.74" width="7.6" height="2.15" fill="#00ff00" stroke="#333" stroke-opacity="0.55" stroke-width="0.35"/>
<rect x="45.50" y="417.75" width="7.6" height="1.98" fill="#0080ff" stroke="#333" stroke-opacity="0.55" stroke-width="0.35"/>
<rect x="45.50" y="415.77" width="7.6" height="1.98" fill="#4000ff" stroke="#333" stroke-opacity="0.55" stroke-width="0.35"/>
<rect x="45.50" y="414.11" width="7.6" height="1.65" fill="#a000ff" stroke="#333" stroke-opacity="0.55" stroke-width="0.35"/>
<rect x="45.50" y="413.12" width="7.6" height="0.99" fill="#ff0000" stroke="#333" stroke-opacity="0.55" stroke-width="0.35"/>
<rect x="45.50" y="411.96" width="7.6" height="1.16" fill="#ff6600" stroke="#333" stroke-opacity="0.55" stroke-width="0.35"/>
<rect x="45.50" y="411.30" width="7.6" height="0.66" fill="#fff000" stroke="#333" stroke-opacity="0.55" stroke-width="0.35"/>
<rect x="45.50" y="410.31" width="7.6" height="0.99" fill="#00ff00" stroke="#333" stroke-opacity="0.55" stroke-width="0.35"/>
<rect x="45.50" y="408.65" width="7.6" height="1.65" fill="#101018" stroke="#333" stroke-opacity="0.55" stroke-width="0.35"/>
<rect x="45.50" y="407.00" width="7.6" height="1.65" fill="#808080" stroke="#333" stroke-opacity="0.55" stroke-width="0.35"/>
<rect x="45.50" y="407.00" width="7.6" height="165.40" fill="none" stroke="#444" stroke-width="0.6"/>
<line x1="49.30" y1="572.40" x2="49.30" y2="575.40" stroke="#3a3a3a" stroke-width="0.8"/>
<text x="49.30" y="582.80" font-size="5.6" text-anchor="middle" fill="#000000">D</text>
<rect x="54.93" y="426.52" width="7.6" height="145.88" fill="#ff0000" stroke="#333" stroke-opacity="0.55" stroke-width="0.35"/>
<rect x="54.93" y="423.04" width="7.6" height="3.47" fill="#ff6600" stroke="#333" stroke-opacity="0.55" stroke-width="0.35"/>
<rect x="54.93" y="419.74" width="7.6" height="3.31" fill="#fff000" stroke="#333" stroke-opacity="0.55" stroke-width="0.35"/>
<rect x="54.93" y="417.25" width="7.6" height="2.48" fill="#00ff00" stroke="#333" stroke-opacity="0.55" stroke-width="0.35"/>
<rect x="54.93" y="414.61" width="7.6" height="2.65" fill="#4000ff" stroke="#333" stroke-opacity="0.55" stroke-width="0.35"/>
<rect x="54.93" y="413.12" width="7.6" height="1.49" fill="#a000ff" stroke="#333" stroke-opacity="0.55" stroke-width="0.35"/>
<rect x="54.93" y="412.46" width="7.6" height="0.66" fill="#fff000" stroke="#333" stroke-opacity="0.55" stroke-width="0.35"/>
<rect x="54.93" y="410.47" width="7.6" height="1.98" fill="#ff0000" stroke="#333" stroke-opacity="0.55" stroke-width="0.35"/>
<rect x="54.93" y="408.65" width="7.6" height="1.82" fill="#200080" stroke="#333" stroke-opacity="0.55" stroke-width="0.35"/>
<rect x="54.93" y="407.00" width="7.6" height="1.65" fill="#808080" stroke="#333" stroke-opacity="0.55" stroke-width="0.35"/>
<rect x="54.93" y="407.00" width="7.6" height="165.40" fill="none" stroke="#444" stroke-width="0.6"/>
<line x1="58.73" y1="572.40" x2="58.73" y2="575.40" stroke="#3a3a3a" stroke-width="0.8"/>
<text x="58.73" y="582.80" font-size="5.6" text-anchor="middle" fill="#000000">D</text>
<rect x="64.36" y="444.88" width="7.6" height="127.52" fill="#ff0000" stroke="#333" stroke-opacity="0.55" stroke-width="0.35"/>
<rect x="64.36" y="441.24" width="7.6" height="3.64" fill="#ff6600" stroke="#333" stroke-opacity="0.55" stroke-width="0.35"/>
<rect x="64.36" y="437.10" width="7.6" height="4.13" fill="#fff000" stroke="#333" stroke-opacity="0.55" stroke-width="0.35"/>
<rect x="64.36" y="435.78" width="7.6" height="1.32" fill="#00ff00" stroke="#333" stroke-opacity="0.55" stroke-width="0.35"/>
<rect x="64.36" y="433.30" width="7.6" height="2.48" fill="#4000ff" stroke="#333" stroke-opacity="0.55" stroke-width="0.35"/>
<rect x="64.36" y="429.66" width="7.6" height="3.64" fill="#ff0000" stroke="#333" stroke-opacity="0.55" stroke-width="0.35"/>
<rect x="64.36" y="428.50" width="7.6" height="1.16" fill="#ff6600" stroke="#333" stroke-opacity="0.55" stroke-width="0.35"/>
<rect x="64.36" y="426.02" width="7.6" height="2.48" fill="#00ff00" stroke="#333" stroke-opacity="0.55" stroke-width="0.35"/>
<rect x="64.36" y="424.04" width="7.6" height="1.98" fill="#4000ff" stroke="#333" stroke-opacity="0.55" stroke-width="0.35"/>
<rect x="64.36" y="423.04" width="7.6" height="0.99" fill="#ff0000" stroke="#333" stroke-opacity="0.55" stroke-width="0.35"/>
<rect x="64.36" y="421.56" width="7.6" height="1.49" fill="#00ff00" stroke="#333" stroke-opacity="0.55" stroke-width="0.35"/>
<rect x="64.36" y="420.40" width="7.6" height="1.16" fill="#0080ff" stroke="#333" stroke-opacity="0.55" stroke-width="0.35"/>
<rect x="64.36" y="414.11" width="7.6" height="6.29" fill="#4000ff" stroke="#333" stroke-opacity="0.55" stroke-width="0.35"/>
<rect x="64.36" y="407.00" width="7.6" height="7.11" fill="#808080" stroke="#333" stroke-opacity="0.55" stroke-width="0.35"/>
<rect x="64.36" y="407.00" width="7.6" height="165.40" fill="none" stroke="#444" stroke-width="0.6"/>
<line x1="68.16" y1="572.40" x2="68.16" y2="575.40" stroke="#3a3a3a" stroke-width="0.8"/>
<text x="68.16" y="582.80" font-size="5.6" text-anchor="middle" fill="#000000">D</text>
<rect x="73.79" y="447.85" width="7.6" height="124.55" fill="#ff0000" stroke="#333" stroke-opacity="0.55" stroke-width="0.35"/>
<rect x="73.79" y="436.77" width="7.6" height="11.08" fill="#ff6600" stroke="#333" stroke-opacity="0.55" stroke-width="0.35"/>
<rect x="73.79" y="429.66" width="7.6" height="7.11" fill="#fff000" stroke="#333" stroke-opacity="0.55" stroke-width="0.35"/>
<rect x="73.79" y="427.68" width="7.6" height="1.98" fill="#00ff00" stroke="#333" stroke-opacity="0.55" stroke-width="0.35"/>
<rect x="73.79" y="424.70" width="7.6" height="2.98" fill="#a000ff" stroke="#333" stroke-opacity="0.55" stroke-width="0.35"/>
<rect x="73.79" y="422.88" width="7.6" height="1.82" fill="#ff6600" stroke="#333" stroke-opacity="0.55" stroke-width="0.35"/>
<rect x="73.79" y="421.39" width="7.6" height="1.49" fill="#00ff00" stroke="#333" stroke-opacity="0.55" stroke-width="0.35"/>
<rect x="73.79" y="419.74" width="7.6" height="1.65" fill="#4000ff" stroke="#333" stroke-opacity="0.55" stroke-width="0.35"/>
<rect x="73.79" y="417.75" width="7.6" height="1.98" fill="#ff0000" stroke="#333" stroke-opacity="0.55" stroke-width="0.35"/>
<rect x="73.79" y="416.76" width="7.6" height="0.99" fill="#fff000" stroke="#333" stroke-opacity="0.55" stroke-width="0.35"/>
<rect x="73.79" y="414.94" width="7.6" height="1.82" fill="#00ff00" stroke="#333" stroke-opacity="0.55" stroke-width="0.35"/>
<rect x="73.79" y="413.78" width="7.6" height="1.16" fill="#0080ff" stroke="#333" stroke-opacity="0.55" stroke-width="0.35"/>
<rect x="73.79" y="411.96" width="7.6" height="1.82" fill="#4000ff" stroke="#333" stroke-opacity="0.55" stroke-width="0.35"/>
<rect x="73.79" y="407.00" width="7.6" height="4.96" fill="#808080" stroke="#333" stroke-opacity="0.55" stroke-width="0.35"/>
<rect x="73.79" y="407.00" width="7.6" height="165.40" fill="none" stroke="#444" stroke-width="0.6"/>
<line x1="77.59" y1="572.40" x2="77.59" y2="575.40" stroke="#3a3a3a" stroke-width="0.8"/>
<text x="77.59" y="582.80" font-size="5.6" text-anchor="middle" fill="#000000">D</text>
<rect x="83.22" y="421.89" width="7.6" height="150.51" fill="#ff0000" stroke="#333" stroke-opacity="0.55" stroke-width="0.35"/>
<rect x="83.22" y="418.91" width="7.6" height="2.98" fill="#ff6600" stroke="#333" stroke-opacity="0.55" stroke-width="0.35"/>
<rect x="83.22" y="416.10" width="7.6" height="2.81" fill="#fff000" stroke="#333" stroke-opacity="0.55" stroke-width="0.35"/>
<rect x="83.22" y="413.45" width="7.6" height="2.65" fill="#200080" stroke="#333" stroke-opacity="0.55" stroke-width="0.35"/>
<rect x="83.22" y="411.63" width="7.6" height="1.82" fill="#ff0000" stroke="#333" stroke-opacity="0.55" stroke-width="0.35"/>
<rect x="83.22" y="409.98" width="7.6" height="1.65" fill="#00ff00" stroke="#333" stroke-opacity="0.55" stroke-width="0.35"/>
<rect x="83.22" y="408.49" width="7.6" height="1.49" fill="#101018" stroke="#333" stroke-opacity="0.55" stroke-width="0.35"/>
<rect x="83.22" y="407.00" width="7.6" height="1.49" fill="#808080" stroke="#333" stroke-opacity="0.55" stroke-width="0.35"/>
<rect x="83.22" y="407.00" width="7.6" height="165.40" fill="none" stroke="#444" stroke-width="0.6"/>
<line x1="87.02" y1="572.40" x2="87.02" y2="575.40" stroke="#3a3a3a" stroke-width="0.8"/>
<text x="87.02" y="582.80" font-size="5.6" text-anchor="middle" fill="#000000">D</text>
<rect x="92.65" y="414.94" width="7.6" height="157.46" fill="#ff0000" stroke="#333" stroke-opacity="0.55" stroke-width="0.35"/>
<rect x="92.65" y="413.62" width="7.6" height="1.32" fill="#ff6600" stroke="#333" stroke-opacity="0.55" stroke-width="0.35"/>
<rect x="92.65" y="412.79" width="7.6" height="0.83" fill="#fff000" stroke="#333" stroke-opacity="0.55" stroke-width="0.35"/>
<rect x="92.65" y="411.30" width="7.6" height="1.49" fill="#00ff00" stroke="#333" stroke-opacity="0.55" stroke-width="0.35"/>
<rect x="92.65" y="409.48" width="7.6" height="1.82" fill="#4000ff" stroke="#333" stroke-opacity="0.55" stroke-width="0.35"/>
<rect x="92.65" y="408.16" width="7.6" height="1.32" fill="#101018" stroke="#333" stroke-opacity="0.55" stroke-width="0.35"/>
<rect x="92.65" y="407.00" width="7.6" height="1.16" fill="#006030" stroke="#333" stroke-opacity="0.55" stroke-width="0.35"/>
<rect x="92.65" y="407.00" width="7.6" height="165.40" fill="none" stroke="#444" stroke-width="0.6"/>
<line x1="96.45" y1="572.40" x2="96.45" y2="575.40" stroke="#3a3a3a" stroke-width="0.8"/>
<text x="96.45" y="582.80" font-size="5.6" text-anchor="middle" fill="#000000">D</text>
<rect x="102.08" y="529.07" width="7.6" height="43.33" fill="#ff0000" stroke="#333" stroke-opacity="0.55" stroke-width="0.35"/>
<rect x="102.08" y="517.16" width="7.6" height="11.91" fill="#ff6600" stroke="#333" stroke-opacity="0.55" stroke-width="0.35"/>
<rect x="102.08" y="490.03" width="7.6" height="27.13" fill="#fff000" stroke="#333" stroke-opacity="0.55" stroke-width="0.35"/>
<rect x="102.08" y="487.55" width="7.6" height="2.48" fill="#00ff00" stroke="#333" stroke-opacity="0.55" stroke-width="0.35"/>
<rect x="102.08" y="486.06" width="7.6" height="1.49" fill="#0080ff" stroke="#333" stroke-opacity="0.55" stroke-width="0.35"/>
<rect x="102.08" y="479.45" width="7.6" height="6.62" fill="#4000ff" stroke="#333" stroke-opacity="0.55" stroke-width="0.35"/>
<rect x="102.08" y="475.81" width="7.6" height="3.64" fill="#a000ff" stroke="#333" stroke-opacity="0.55" stroke-width="0.35"/>
<rect x="102.08" y="474.65" width="7.6" height="1.16" fill="#ff0000" stroke="#333" stroke-opacity="0.55" stroke-width="0.35"/>
<rect x="102.08" y="470.18" width="7.6" height="4.47" fill="#ff6600" stroke="#333" stroke-opacity="0.55" stroke-width="0.35"/>
<rect x="102.08" y="467.37" width="7.6" height="2.81" fill="#00ff00" stroke="#333" stroke-opacity="0.55" stroke-width="0.35"/>
<rect x="102.08" y="463.73" width="7.6" height="3.64" fill="#4000ff" stroke="#333" stroke-opacity="0.55" stroke-width="0.35"/>
<rect x="102.08" y="461.25" width="7.6" height="2.48" fill="#a000ff" stroke="#333" stroke-opacity="0.55" stroke-width="0.35"/>
<rect x="102.08" y="458.60" width="7.6" height="2.65" fill="#ff0000" stroke="#333" stroke-opacity="0.55" stroke-width="0.35"/>
<rect x="102.08" y="456.62" width="7.6" height="1.98" fill="#ff6600" stroke="#333" stroke-opacity="0.55" stroke-width="0.35"/>
<rect x="102.08" y="452.49" width="7.6" height="4.13" fill="#fff000" stroke="#333" stroke-opacity="0.55" stroke-width="0.35"/>
<rect x="102.08" y="449.34" width="7.6" height="3.14" fill="#00ff00" stroke="#333" stroke-opacity="0.55" stroke-width="0.35"/>
<rect x="102.08" y="445.87" width="7.6" height="3.47" fill="#0080ff" stroke="#333" stroke-opacity="0.55" stroke-width="0.35"/>
<rect x="102.08" y="442.73" width="7.6" height="3.14" fill="#4000ff" stroke="#333" stroke-opacity="0.55" stroke-width="0.35"/>
<rect x="102.08" y="407.00" width="7.6" height="35.73" fill="#808080" stroke="#333" stroke-opacity="0.55" stroke-width="0.35"/>
<rect x="102.08" y="407.00" width="7.6" height="165.40" fill="none" stroke="#444" stroke-width="0.6"/>
<line x1="105.88" y1="572.40" x2="105.88" y2="575.40" stroke="#3a3a3a" stroke-width="0.8"/>
<text x="105.88" y="582.80" font-size="5.6" text-anchor="middle" fill="#000000">D</text>
<rect x="111.51" y="560.00" width="7.6" height="12.40" fill="#ff0000" stroke="#333" stroke-opacity="0.55" stroke-width="0.35"/>
<rect x="111.51" y="555.03" width="7.6" height="4.96" fill="#ff6600" stroke="#333" stroke-opacity="0.55" stroke-width="0.35"/>
<rect x="111.51" y="489.70" width="7.6" height="65.33" fill="#fff000" stroke="#333" stroke-opacity="0.55" stroke-width="0.35"/>
<rect x="111.51" y="487.55" width="7.6" height="2.15" fill="#0080ff" stroke="#333" stroke-opacity="0.55" stroke-width="0.35"/>
<rect x="111.51" y="484.24" width="7.6" height="3.31" fill="#4000ff" stroke="#333" stroke-opacity="0.55" stroke-width="0.35"/>
<rect x="111.51" y="481.60" width="7.6" height="2.65" fill="#ff6600" stroke="#333" stroke-opacity="0.55" stroke-width="0.35"/>
<rect x="111.51" y="479.45" width="7.6" height="2.15" fill="#4000ff" stroke="#333" stroke-opacity="0.55" stroke-width="0.35"/>
<rect x="111.51" y="475.81" width="7.6" height="3.64" fill="#ff0000" stroke="#333" stroke-opacity="0.55" stroke-width="0.35"/>
<rect x="111.51" y="472.83" width="7.6" height="2.98" fill="#fff000" stroke="#333" stroke-opacity="0.55" stroke-width="0.35"/>
<rect x="111.51" y="468.86" width="7.6" height="3.97" fill="#00ff00" stroke="#333" stroke-opacity="0.55" stroke-width="0.35"/>
<rect x="111.51" y="465.55" width="7.6" height="3.31" fill="#4000ff" stroke="#333" stroke-opacity="0.55" stroke-width="0.35"/>
<rect x="111.51" y="407.00" width="7.6" height="58.55" fill="#808080" stroke="#333" stroke-opacity="0.55" stroke-width="0.35"/>
<rect x="111.51" y="407.00" width="7.6" height="165.40" fill="none" stroke="#444" stroke-width="0.6"/>
<line x1="115.31" y1="572.40" x2="115.31" y2="575.40" stroke="#3a3a3a" stroke-width="0.8"/>
<text x="115.31" y="582.80" font-size="5.6" text-anchor="middle" fill="#000000">WD</text>
<rect x="120.94" y="556.19" width="7.6" height="16.21" fill="#ff0000" stroke="#333" stroke-opacity="0.55" stroke-width="0.35"/>
<rect x="120.94" y="545.94" width="7.6" height="10.25" fill="#ff6600" stroke="#333" stroke-opacity="0.55" stroke-width="0.35"/>
<rect x="120.94" y="462.91" width="7.6" height="83.03" fill="#fff000" stroke="#333" stroke-opacity="0.55" stroke-width="0.35"/>
<rect x="120.94" y="458.60" width="7.6" height="4.30" fill="#4000ff" stroke="#333" stroke-opacity="0.55" stroke-width="0.35"/>
<rect x="120.94" y="456.62" width="7.6" height="1.98" fill="#ff6600" stroke="#333" stroke-opacity="0.55" stroke-width="0.35"/>
<rect x="120.94" y="452.49" width="7.6" height="4.13" fill="#4000ff" stroke="#333" stroke-opacity="0.55" stroke-width="0.35"/>
<rect x="120.94" y="449.51" width="7.6" height="2.98" fill="#ff0000" stroke="#333" stroke-opacity="0.55" stroke-width="0.35"/>
<rect x="120.94" y="445.21" width="7.6" height="4.30" fill="#00ff00" stroke="#333" stroke-opacity="0.55" stroke-width="0.35"/>
<rect x="120.94" y="441.24" width="7.6" height="3.97" fill="#0080ff" stroke="#333" stroke-opacity="0.55" stroke-width="0.35"/>
<rect x="120.94" y="407.00" width="7.6" height="34.24" fill="#808080" stroke="#333" stroke-opacity="0.55" stroke-width="0.35"/>
<rect x="120.94" y="407.00" width="7.6" height="165.40" fill="none" stroke="#444" stroke-width="0.6"/>
<line x1="124.74" y1="572.40" x2="124.74" y2="575.40" stroke="#3a3a3a" stroke-width="0.8"/>
<text x="124.74" y="582.80" font-size="5.6" text-anchor="middle" fill="#000000">WD</text>
<rect x="130.37" y="523.94" width="7.6" height="48.46" fill="#ff0000" stroke="#333" stroke-opacity="0.55" stroke-width="0.35"/>
<rect x="130.37" y="489.70" width="7.6" height="34.24" fill="#ff6600" stroke="#333" stroke-opacity="0.55" stroke-width="0.35"/>
<rect x="130.37" y="474.65" width="7.6" height="15.05" fill="#fff000" stroke="#333" stroke-opacity="0.55" stroke-width="0.35"/>
<rect x="130.37" y="470.18" width="7.6" height="4.47" fill="#00ff00" stroke="#333" stroke-opacity="0.55" stroke-width="0.35"/>
<rect x="130.37" y="468.53" width="7.6" height="1.65" fill="#0080ff" stroke="#333" stroke-opacity="0.55" stroke-width="0.35"/>
<rect x="130.37" y="462.74" width="7.6" height="5.79" fill="#4000ff" stroke="#333" stroke-opacity="0.55" stroke-width="0.35"/>
<rect x="130.37" y="460.92" width="7.6" height="1.82" fill="#a000ff" stroke="#333" stroke-opacity="0.55" stroke-width="0.35"/>
<rect x="130.37" y="459.76" width="7.6" height="1.16" fill="#ff0000" stroke="#333" stroke-opacity="0.55" stroke-width="0.35"/>
<rect x="130.37" y="457.12" width="7.6" height="2.65" fill="#ff6600" stroke="#333" stroke-opacity="0.55" stroke-width="0.35"/>
<rect x="130.37" y="455.13" width="7.6" height="1.98" fill="#00ff00" stroke="#333" stroke-opacity="0.55" stroke-width="0.35"/>
<rect x="130.37" y="452.15" width="7.6" height="2.98" fill="#4000ff" stroke="#333" stroke-opacity="0.55" stroke-width="0.35"/>
<rect x="130.37" y="450.00" width="7.6" height="2.15" fill="#a000ff" stroke="#333" stroke-opacity="0.55" stroke-width="0.35"/>
<rect x="130.37" y="448.02" width="7.6" height="1.98" fill="#ff0000" stroke="#333" stroke-opacity="0.55" stroke-width="0.35"/>
<rect x="130.37" y="445.54" width="7.6" height="2.48" fill="#ff6600" stroke="#333" stroke-opacity="0.55" stroke-width="0.35"/>
<rect x="130.37" y="443.39" width="7.6" height="2.15" fill="#fff000" stroke="#333" stroke-opacity="0.55" stroke-width="0.35"/>
<rect x="130.37" y="440.74" width="7.6" height="2.65" fill="#00ff00" stroke="#333" stroke-opacity="0.55" stroke-width="0.35"/>
<rect x="130.37" y="437.10" width="7.6" height="3.64" fill="#0080ff" stroke="#333" stroke-opacity="0.55" stroke-width="0.35"/>
<rect x="130.37" y="433.96" width="7.6" height="3.14" fill="#4000ff" stroke="#333" stroke-opacity="0.55" stroke-width="0.35"/>
<rect x="130.37" y="407.00" width="7.6" height="26.96" fill="#808080" stroke="#333" stroke-opacity="0.55" stroke-width="0.35"/>
<rect x="130.37" y="407.00" width="7.6" height="165.40" fill="none" stroke="#444" stroke-width="0.6"/>
<line x1="134.17" y1="572.40" x2="134.17" y2="575.40" stroke="#3a3a3a" stroke-width="0.8"/>
<text x="134.17" y="582.80" font-size="5.6" text-anchor="middle" fill="#000000">WD</text>
<rect x="139.80" y="564.63" width="7.6" height="7.77" fill="#ff0000" stroke="#333" stroke-opacity="0.55" stroke-width="0.35"/>
<rect x="139.80" y="558.01" width="7.6" height="6.62" fill="#ff6600" stroke="#333" stroke-opacity="0.55" stroke-width="0.35"/>
<rect x="139.80" y="543.45" width="7.6" height="14.56" fill="#fff000" stroke="#333" stroke-opacity="0.55" stroke-width="0.35"/>
<rect x="139.80" y="540.81" width="7.6" height="2.65" fill="#00ff00" stroke="#333" stroke-opacity="0.55" stroke-width="0.35"/>
<rect x="139.80" y="535.18" width="7.6" height="5.62" fill="#4000ff" stroke="#333" stroke-opacity="0.55" stroke-width="0.35"/>
<rect x="139.80" y="532.70" width="7.6" height="2.48" fill="#ff6600" stroke="#333" stroke-opacity="0.55" stroke-width="0.35"/>
<rect x="139.80" y="531.38" width="7.6" height="1.32" fill="#00ff00" stroke="#333" stroke-opacity="0.55" stroke-width="0.35"/>
<rect x="139.80" y="529.07" width="7.6" height="2.32" fill="#4000ff" stroke="#333" stroke-opacity="0.55" stroke-width="0.35"/>
<rect x="139.80" y="526.91" width="7.6" height="2.15" fill="#ff0000" stroke="#333" stroke-opacity="0.55" stroke-width="0.35"/>
<rect x="139.80" y="525.10" width="7.6" height="1.82" fill="#fff000" stroke="#333" stroke-opacity="0.55" stroke-width="0.35"/>
<rect x="139.80" y="522.61" width="7.6" height="2.48" fill="#00ff00" stroke="#333" stroke-opacity="0.55" stroke-width="0.35"/>
<rect x="139.80" y="407.00" width="7.6" height="115.61" fill="#808080" stroke="#333" stroke-opacity="0.55" stroke-width="0.35"/>
<rect x="139.80" y="407.00" width="7.6" height="165.40" fill="none" stroke="#444" stroke-width="0.6"/>
<line x1="143.60" y1="572.40" x2="143.60" y2="575.40" stroke="#3a3a3a" stroke-width="0.8"/>
<text x="143.60" y="582.80" font-size="5.6" text-anchor="middle" fill="#000000">WD</text>
<rect x="149.23" y="557.35" width="7.6" height="15.05" fill="#ff0000" stroke="#333" stroke-opacity="0.55" stroke-width="0.35"/>
<rect x="149.23" y="542.96" width="7.6" height="14.39" fill="#ff6600" stroke="#333" stroke-opacity="0.55" stroke-width="0.35"/>
<rect x="149.23" y="517.65" width="7.6" height="25.31" fill="#fff000" stroke="#333" stroke-opacity="0.55" stroke-width="0.35"/>
<rect x="149.23" y="515.17" width="7.6" height="2.48" fill="#00ff00" stroke="#333" stroke-opacity="0.55" stroke-width="0.35"/>
<rect x="149.23" y="513.85" width="7.6" height="1.32" fill="#4000ff" stroke="#333" stroke-opacity="0.55" stroke-width="0.35"/>
<rect x="149.23" y="507.56" width="7.6" height="6.29" fill="#a000ff" stroke="#333" stroke-opacity="0.55" stroke-width="0.35"/>
<rect x="149.23" y="505.41" width="7.6" height="2.15" fill="#ff6600" stroke="#333" stroke-opacity="0.55" stroke-width="0.35"/>
<rect x="149.23" y="502.77" width="7.6" height="2.65" fill="#4000ff" stroke="#333" stroke-opacity="0.55" stroke-width="0.35"/>
<rect x="149.23" y="498.96" width="7.6" height="3.80" fill="#ff0000" stroke="#333" stroke-opacity="0.55" stroke-width="0.35"/>
<rect x="149.23" y="495.82" width="7.6" height="3.14" fill="#ff6600" stroke="#333" stroke-opacity="0.55" stroke-width="0.35"/>
<rect x="149.23" y="490.36" width="7.6" height="5.46" fill="#fff000" stroke="#333" stroke-opacity="0.55" stroke-width="0.35"/>
<rect x="149.23" y="487.55" width="7.6" height="2.81" fill="#00ff00" stroke="#333" stroke-opacity="0.55" stroke-width="0.35"/>
<rect x="149.23" y="486.06" width="7.6" height="1.49" fill="#008080" stroke="#333" stroke-opacity="0.55" stroke-width="0.35"/>
<rect x="149.23" y="407.00" width="7.6" height="79.06" fill="#808080" stroke="#333" stroke-opacity="0.55" stroke-width="0.35"/>
<rect x="149.23" y="407.00" width="7.6" height="165.40" fill="none" stroke="#444" stroke-width="0.6"/>
<line x1="153.03" y1="572.40" x2="153.03" y2="575.40" stroke="#3a3a3a" stroke-width="0.8"/>
<text x="153.03" y="582.80" font-size="5.6" text-anchor="middle" fill="#000000">WD</text>
<rect x="158.66" y="549.57" width="7.6" height="22.83" fill="#ff0000" stroke="#333" stroke-opacity="0.55" stroke-width="0.35"/>
<rect x="158.66" y="544.45" width="7.6" height="5.13" fill="#ff6600" stroke="#333" stroke-opacity="0.55" stroke-width="0.35"/>
<rect x="158.66" y="459.10" width="7.6" height="85.35" fill="#fff000" stroke="#333" stroke-opacity="0.55" stroke-width="0.35"/>
<rect x="158.66" y="456.12" width="7.6" height="2.98" fill="#4000ff" stroke="#333" stroke-opacity="0.55" stroke-width="0.35"/>
<rect x="158.66" y="453.64" width="7.6" height="2.48" fill="#ff6600" stroke="#333" stroke-opacity="0.55" stroke-width="0.35"/>
<rect x="158.66" y="451.66" width="7.6" height="1.98" fill="#200080" stroke="#333" stroke-opacity="0.55" stroke-width="0.35"/>
<rect x="158.66" y="449.34" width="7.6" height="2.32" fill="#ff0000" stroke="#333" stroke-opacity="0.55" stroke-width="0.35"/>
<rect x="158.66" y="448.35" width="7.6" height="0.99" fill="#ff6600" stroke="#333" stroke-opacity="0.55" stroke-width="0.35"/>
<rect x="158.66" y="445.21" width="7.6" height="3.14" fill="#00ff00" stroke="#333" stroke-opacity="0.55" stroke-width="0.35"/>
<rect x="158.66" y="442.23" width="7.6" height="2.98" fill="#0080ff" stroke="#333" stroke-opacity="0.55" stroke-width="0.35"/>
<rect x="158.66" y="440.74" width="7.6" height="1.49" fill="#4000ff" stroke="#333" stroke-opacity="0.55" stroke-width="0.35"/>
<rect x="158.66" y="407.00" width="7.6" height="33.74" fill="#808080" stroke="#333" stroke-opacity="0.55" stroke-width="0.35"/>
<rect x="158.66" y="407.00" width="7.6" height="165.40" fill="none" stroke="#444" stroke-width="0.6"/>
<line x1="162.46" y1="572.40" x2="162.46" y2="575.40" stroke="#3a3a3a" stroke-width="0.8"/>
<text x="162.46" y="582.80" font-size="5.6" text-anchor="middle" fill="#000000">WD</text>
<rect x="168.09" y="561.65" width="7.6" height="10.75" fill="#ff0000" stroke="#333" stroke-opacity="0.55" stroke-width="0.35"/>
<rect x="168.09" y="556.85" width="7.6" height="4.80" fill="#ff6600" stroke="#333" stroke-opacity="0.55" stroke-width="0.35"/>
<rect x="168.09" y="454.14" width="7.6" height="102.71" fill="#fff000" stroke="#333" stroke-opacity="0.55" stroke-width="0.35"/>
<rect x="168.09" y="451.00" width="7.6" height="3.14" fill="#4000ff" stroke="#333" stroke-opacity="0.55" stroke-width="0.35"/>
<rect x="168.09" y="449.51" width="7.6" height="1.49" fill="#ff6600" stroke="#333" stroke-opacity="0.55" stroke-width="0.35"/>
<rect x="168.09" y="447.36" width="7.6" height="2.15" fill="#4000ff" stroke="#333" stroke-opacity="0.55" stroke-width="0.35"/>
<rect x="168.09" y="445.54" width="7.6" height="1.82" fill="#ff0000" stroke="#333" stroke-opacity="0.55" stroke-width="0.35"/>
<rect x="168.09" y="441.90" width="7.6" height="3.64" fill="#00ff00" stroke="#333" stroke-opacity="0.55" stroke-width="0.35"/>
<rect x="168.09" y="438.59" width="7.6" height="3.31" fill="#0080ff" stroke="#333" stroke-opacity="0.55" stroke-width="0.35"/>
<rect x="168.09" y="407.00" width="7.6" height="31.59" fill="#808080" stroke="#333" stroke-opacity="0.55" stroke-width="0.35"/>
<rect x="168.09" y="407.00" width="7.6" height="165.40" fill="none" stroke="#444" stroke-width="0.6"/>
<line x1="171.89" y1="572.40" x2="171.89" y2="575.40" stroke="#3a3a3a" stroke-width="0.8"/>
<text x="171.89" y="582.80" font-size="5.6" text-anchor="middle" fill="#000000">WD</text>
<rect x="177.52" y="562.31" width="7.6" height="10.09" fill="#ff0000" stroke="#333" stroke-opacity="0.55" stroke-width="0.35"/>
<rect x="177.52" y="556.19" width="7.6" height="6.12" fill="#ff6600" stroke="#333" stroke-opacity="0.55" stroke-width="0.35"/>
<rect x="177.52" y="456.12" width="7.6" height="100.07" fill="#fff000" stroke="#333" stroke-opacity="0.55" stroke-width="0.35"/>
<rect x="177.52" y="451.00" width="7.6" height="5.13" fill="#4000ff" stroke="#333" stroke-opacity="0.55" stroke-width="0.35"/>
<rect x="177.52" y="448.35" width="7.6" height="2.65" fill="#ff6600" stroke="#333" stroke-opacity="0.55" stroke-width="0.35"/>
<rect x="177.52" y="444.88" width="7.6" height="3.47" fill="#4000ff" stroke="#333" stroke-opacity="0.55" stroke-width="0.35"/>
<rect x="177.52" y="442.23" width="7.6" height="2.65" fill="#ff0000" stroke="#333" stroke-opacity="0.55" stroke-width="0.35"/>
<rect x="177.52" y="438.26" width="7.6" height="3.97" fill="#00ff00" stroke="#333" stroke-opacity="0.55" stroke-width="0.35"/>
<rect x="177.52" y="407.00" width="7.6" height="31.26" fill="#808080" stroke="#333" stroke-opacity="0.55" stroke-width="0.35"/>
<rect x="177.52" y="407.00" width="7.6" height="165.40" fill="none" stroke="#444" stroke-width="0.6"/>
<line x1="181.32" y1="572.40" x2="181.32" y2="575.40" stroke="#3a3a3a" stroke-width="0.8"/>
<text x="181.32" y="582.80" font-size="5.6" text-anchor="middle" fill="#000000">WD</text>
<rect x="186.95" y="537.17" width="7.6" height="35.23" fill="#ff0000" stroke="#333" stroke-opacity="0.55" stroke-width="0.35"/>
<rect x="186.95" y="508.89" width="7.6" height="28.28" fill="#ff6600" stroke="#333" stroke-opacity="0.55" stroke-width="0.35"/>
<rect x="186.95" y="491.35" width="7.6" height="17.53" fill="#fff000" stroke="#333" stroke-opacity="0.55" stroke-width="0.35"/>
<rect x="186.95" y="486.39" width="7.6" height="4.96" fill="#00ff00" stroke="#333" stroke-opacity="0.55" stroke-width="0.35"/>
<rect x="186.95" y="484.24" width="7.6" height="2.15" fill="#0080ff" stroke="#333" stroke-opacity="0.55" stroke-width="0.35"/>
<rect x="186.95" y="477.30" width="7.6" height="6.95" fill="#4000ff" stroke="#333" stroke-opacity="0.55" stroke-width="0.35"/>
<rect x="186.95" y="474.32" width="7.6" height="2.98" fill="#a000ff" stroke="#333" stroke-opacity="0.55" stroke-width="0.35"/>
<rect x="186.95" y="473.33" width="7.6" height="0.99" fill="#ff0000" stroke="#333" stroke-opacity="0.55" stroke-width="0.35"/>
<rect x="186.95" y="470.02" width="7.6" height="3.31" fill="#ff6600" stroke="#333" stroke-opacity="0.55" stroke-width="0.35"/>
<rect x="186.95" y="468.53" width="7.6" height="1.49" fill="#fff000" stroke="#333" stroke-opacity="0.55" stroke-width="0.35"/>
<rect x="186.95" y="467.37" width="7.6" height="1.16" fill="#00ff00" stroke="#333" stroke-opacity="0.55" stroke-width="0.35"/>
<rect x="186.95" y="464.89" width="7.6" height="2.48" fill="#0080ff" stroke="#333" stroke-opacity="0.55" stroke-width="0.35"/>
<rect x="186.95" y="462.41" width="7.6" height="2.48" fill="#4000ff" stroke="#333" stroke-opacity="0.55" stroke-width="0.35"/>
<rect x="186.95" y="459.10" width="7.6" height="3.31" fill="#a000ff" stroke="#333" stroke-opacity="0.55" stroke-width="0.35"/>
<rect x="186.95" y="455.79" width="7.6" height="3.31" fill="#ff0000" stroke="#333" stroke-opacity="0.55" stroke-width="0.35"/>
<rect x="186.95" y="453.15" width="7.6" height="2.65" fill="#ff6600" stroke="#333" stroke-opacity="0.55" stroke-width="0.35"/>
<rect x="186.95" y="448.85" width="7.6" height="4.30" fill="#fff000" stroke="#333" stroke-opacity="0.55" stroke-width="0.35"/>
<rect x="186.95" y="445.54" width="7.6" height="3.31" fill="#00ff00" stroke="#333" stroke-opacity="0.55" stroke-width="0.35"/>
<rect x="186.95" y="440.74" width="7.6" height="4.80" fill="#0080ff" stroke="#333" stroke-opacity="0.55" stroke-width="0.35"/>
<rect x="186.95" y="438.26" width="7.6" height="2.48" fill="#4000ff" stroke="#333" stroke-opacity="0.55" stroke-width="0.35"/>
<rect x="186.95" y="407.00" width="7.6" height="31.26" fill="#808080" stroke="#333" stroke-opacity="0.55" stroke-width="0.35"/>
<rect x="186.95" y="407.00" width="7.6" height="165.40" fill="none" stroke="#444" stroke-width="0.6"/>
<line x1="190.75" y1="572.40" x2="190.75" y2="575.40" stroke="#3a3a3a" stroke-width="0.8"/>
<text x="190.75" y="582.80" font-size="5.6" text-anchor="middle" fill="#000000">WD</text>
<rect x="196.38" y="520.30" width="7.6" height="52.10" fill="#ff0000" stroke="#333" stroke-opacity="0.55" stroke-width="0.35"/>
<rect x="196.38" y="509.38" width="7.6" height="10.92" fill="#ff6600" stroke="#333" stroke-opacity="0.55" stroke-width="0.35"/>
<rect x="196.38" y="491.85" width="7.6" height="17.53" fill="#fff000" stroke="#333" stroke-opacity="0.55" stroke-width="0.35"/>
<rect x="196.38" y="488.21" width="7.6" height="3.64" fill="#00ff00" stroke="#333" stroke-opacity="0.55" stroke-width="0.35"/>
<rect x="196.38" y="485.56" width="7.6" height="2.65" fill="#0080ff" stroke="#333" stroke-opacity="0.55" stroke-width="0.35"/>
<rect x="196.38" y="479.11" width="7.6" height="6.45" fill="#4000ff" stroke="#333" stroke-opacity="0.55" stroke-width="0.35"/>
<rect x="196.38" y="477.96" width="7.6" height="1.16" fill="#ff0000" stroke="#333" stroke-opacity="0.55" stroke-width="0.35"/>
<rect x="196.38" y="474.32" width="7.6" height="3.64" fill="#ff6600" stroke="#333" stroke-opacity="0.55" stroke-width="0.35"/>
<rect x="196.38" y="472.17" width="7.6" height="2.15" fill="#fff000" stroke="#333" stroke-opacity="0.55" stroke-width="0.35"/>
<rect x="196.38" y="470.02" width="7.6" height="2.15" fill="#00ff00" stroke="#333" stroke-opacity="0.55" stroke-width="0.35"/>
<rect x="196.38" y="467.04" width="7.6" height="2.98" fill="#4000ff" stroke="#333" stroke-opacity="0.55" stroke-width="0.35"/>
<rect x="196.38" y="464.89" width="7.6" height="2.15" fill="#a000ff" stroke="#333" stroke-opacity="0.55" stroke-width="0.35"/>
<rect x="196.38" y="461.91" width="7.6" height="2.98" fill="#ff0000" stroke="#333" stroke-opacity="0.55" stroke-width="0.35"/>
<rect x="196.38" y="459.10" width="7.6" height="2.81" fill="#ff6600" stroke="#333" stroke-opacity="0.55" stroke-width="0.35"/>
<rect x="196.38" y="455.13" width="7.6" height="3.97" fill="#fff000" stroke="#333" stroke-opacity="0.55" stroke-width="0.35"/>
<rect x="196.38" y="451.66" width="7.6" height="3.47" fill="#00ff00" stroke="#333" stroke-opacity="0.55" stroke-width="0.35"/>
<rect x="196.38" y="448.85" width="7.6" height="2.81" fill="#0080ff" stroke="#333" stroke-opacity="0.55" stroke-width="0.35"/>
<rect x="196.38" y="445.87" width="7.6" height="2.98" fill="#4000ff" stroke="#333" stroke-opacity="0.55" stroke-width="0.35"/>
<rect x="196.38" y="407.00" width="7.6" height="38.87" fill="#808080" stroke="#333" stroke-opacity="0.55" stroke-width="0.35"/>
<rect x="196.38" y="407.00" width="7.6" height="165.40" fill="none" stroke="#444" stroke-width="0.6"/>
<line x1="200.18" y1="572.40" x2="200.18" y2="575.40" stroke="#3a3a3a" stroke-width="0.8"/>
<text x="200.18" y="582.80" font-size="5.6" text-anchor="middle" fill="#000000">WD</text>
<rect x="205.81" y="563.14" width="7.6" height="9.26" fill="#ff0000" stroke="#333" stroke-opacity="0.55" stroke-width="0.35"/>
<rect x="205.81" y="538.66" width="7.6" height="24.48" fill="#ff6600" stroke="#333" stroke-opacity="0.55" stroke-width="0.35"/>
<rect x="205.81" y="496.32" width="7.6" height="42.34" fill="#fff000" stroke="#333" stroke-opacity="0.55" stroke-width="0.35"/>
<rect x="205.81" y="494.83" width="7.6" height="1.49" fill="#00ff00" stroke="#333" stroke-opacity="0.55" stroke-width="0.35"/>
<rect x="205.81" y="491.19" width="7.6" height="3.64" fill="#4000ff" stroke="#333" stroke-opacity="0.55" stroke-width="0.35"/>
<rect x="205.81" y="489.37" width="7.6" height="1.82" fill="#ff6600" stroke="#333" stroke-opacity="0.55" stroke-width="0.35"/>
<rect x="205.81" y="485.40" width="7.6" height="3.97" fill="#200080" stroke="#333" stroke-opacity="0.55" stroke-width="0.35"/>
<rect x="205.81" y="483.41" width="7.6" height="1.98" fill="#fff000" stroke="#333" stroke-opacity="0.55" stroke-width="0.35"/>
<rect x="205.81" y="479.94" width="7.6" height="3.47" fill="#00ff00" stroke="#333" stroke-opacity="0.55" stroke-width="0.35"/>
<rect x="205.81" y="478.62" width="7.6" height="1.32" fill="#0080ff" stroke="#333" stroke-opacity="0.55" stroke-width="0.35"/>
<rect x="205.81" y="407.00" width="7.6" height="71.62" fill="#808080" stroke="#333" stroke-opacity="0.55" stroke-width="0.35"/>
<rect x="205.81" y="407.00" width="7.6" height="165.40" fill="none" stroke="#444" stroke-width="0.6"/>
<line x1="209.61" y1="572.40" x2="209.61" y2="575.40" stroke="#3a3a3a" stroke-width="0.8"/>
<text x="209.61" y="582.80" font-size="5.6" text-anchor="middle" fill="#000000">WD</text>
<rect x="215.24" y="566.78" width="7.6" height="5.62" fill="#ff0000" stroke="#333" stroke-opacity="0.55" stroke-width="0.35"/>
<rect x="215.24" y="563.47" width="7.6" height="3.31" fill="#ff6600" stroke="#333" stroke-opacity="0.55" stroke-width="0.35"/>
<rect x="215.24" y="461.25" width="7.6" height="102.22" fill="#fff000" stroke="#333" stroke-opacity="0.55" stroke-width="0.35"/>
<rect x="215.24" y="457.61" width="7.6" height="3.64" fill="#4000ff" stroke="#333" stroke-opacity="0.55" stroke-width="0.35"/>
<rect x="215.24" y="455.46" width="7.6" height="2.15" fill="#ff6600" stroke="#333" stroke-opacity="0.55" stroke-width="0.35"/>
<rect x="215.24" y="453.64" width="7.6" height="1.82" fill="#4000ff" stroke="#333" stroke-opacity="0.55" stroke-width="0.35"/>
<rect x="215.24" y="451.66" width="7.6" height="1.98" fill="#ff0000" stroke="#333" stroke-opacity="0.55" stroke-width="0.35"/>
<rect x="215.24" y="449.84" width="7.6" height="1.82" fill="#fff000" stroke="#333" stroke-opacity="0.55" stroke-width="0.35"/>
<rect x="215.24" y="447.36" width="7.6" height="2.48" fill="#00ff00" stroke="#333" stroke-opacity="0.55" stroke-width="0.35"/>
<rect x="215.24" y="446.37" width="7.6" height="0.99" fill="#0080ff" stroke="#333" stroke-opacity="0.55" stroke-width="0.35"/>
<rect x="215.24" y="443.72" width="7.6" height="2.65" fill="#4000ff" stroke="#333" stroke-opacity="0.55" stroke-width="0.35"/>
<rect x="215.24" y="407.00" width="7.6" height="36.72" fill="#808080" stroke="#333" stroke-opacity="0.55" stroke-width="0.35"/>
<rect x="215.24" y="407.00" width="7.6" height="165.40" fill="none" stroke="#444" stroke-width="0.6"/>
<line x1="219.04" y1="572.40" x2="219.04" y2="575.40" stroke="#3a3a3a" stroke-width="0.8"/>
<text x="219.04" y="582.80" font-size="5.6" text-anchor="middle" fill="#000000">H</text>
<rect x="224.67" y="431.81" width="7.6" height="140.59" fill="#ff0000" stroke="#333" stroke-opacity="0.55" stroke-width="0.35"/>
<rect x="224.67" y="427.34" width="7.6" height="4.47" fill="#ff6600" stroke="#333" stroke-opacity="0.55" stroke-width="0.35"/>
<rect x="224.67" y="422.55" width="7.6" height="4.80" fill="#fff000" stroke="#333" stroke-opacity="0.55" stroke-width="0.35"/>
<rect x="224.67" y="420.40" width="7.6" height="2.15" fill="#00ff00" stroke="#333" stroke-opacity="0.55" stroke-width="0.35"/>
<rect x="224.67" y="417.25" width="7.6" height="3.14" fill="#4000ff" stroke="#333" stroke-opacity="0.55" stroke-width="0.35"/>
<rect x="224.67" y="415.27" width="7.6" height="1.98" fill="#ff0000" stroke="#333" stroke-opacity="0.55" stroke-width="0.35"/>
<rect x="224.67" y="413.12" width="7.6" height="2.15" fill="#00ff00" stroke="#333" stroke-opacity="0.55" stroke-width="0.35"/>
<rect x="224.67" y="410.47" width="7.6" height="2.65" fill="#101018" stroke="#333" stroke-opacity="0.55" stroke-width="0.35"/>
<rect x="224.67" y="407.00" width="7.6" height="3.47" fill="#808080" stroke="#333" stroke-opacity="0.55" stroke-width="0.35"/>
<rect x="224.67" y="407.00" width="7.6" height="165.40" fill="none" stroke="#444" stroke-width="0.6"/>
<line x1="228.47" y1="572.40" x2="228.47" y2="575.40" stroke="#3a3a3a" stroke-width="0.8"/>
<text x="228.47" y="582.80" font-size="5.6" text-anchor="middle" fill="#000000">H</text>
<rect x="234.10" y="430.82" width="7.6" height="141.58" fill="#ff0000" stroke="#333" stroke-opacity="0.55" stroke-width="0.35"/>
<rect x="234.10" y="428.01" width="7.6" height="2.81" fill="#ff6600" stroke="#333" stroke-opacity="0.55" stroke-width="0.35"/>
<rect x="234.10" y="422.55" width="7.6" height="5.46" fill="#fff000" stroke="#333" stroke-opacity="0.55" stroke-width="0.35"/>
<rect x="234.10" y="421.06" width="7.6" height="1.49" fill="#00ff00" stroke="#333" stroke-opacity="0.55" stroke-width="0.35"/>
<rect x="234.10" y="417.42" width="7.6" height="3.64" fill="#4000ff" stroke="#333" stroke-opacity="0.55" stroke-width="0.35"/>
<rect x="234.10" y="415.77" width="7.6" height="1.65" fill="#ff0000" stroke="#333" stroke-opacity="0.55" stroke-width="0.35"/>
<rect x="234.10" y="413.78" width="7.6" height="1.98" fill="#00ff00" stroke="#333" stroke-opacity="0.55" stroke-width="0.35"/>
<rect x="234.10" y="410.97" width="7.6" height="2.81" fill="#200080" stroke="#333" stroke-opacity="0.55" stroke-width="0.35"/>
<rect x="234.10" y="407.00" width="7.6" height="3.97" fill="#808080" stroke="#333" stroke-opacity="0.55" stroke-width="0.35"/>
<rect x="234.10" y="407.00" width="7.6" height="165.40" fill="none" stroke="#444" stroke-width="0.6"/>
<line x1="237.90" y1="572.40" x2="237.90" y2="575.40" stroke="#3a3a3a" stroke-width="0.8"/>
<text x="237.90" y="582.80" font-size="5.6" text-anchor="middle" fill="#000000">H</text>
<rect x="243.53" y="553.71" width="7.6" height="18.69" fill="#ff0000" stroke="#333" stroke-opacity="0.55" stroke-width="0.35"/>
<rect x="243.53" y="547.76" width="7.6" height="5.95" fill="#ff6600" stroke="#333" stroke-opacity="0.55" stroke-width="0.35"/>
<rect x="243.53" y="511.53" width="7.6" height="36.22" fill="#fff000" stroke="#333" stroke-opacity="0.55" stroke-width="0.35"/>
<rect x="243.53" y="508.72" width="7.6" height="2.81" fill="#00ff00" stroke="#333" stroke-opacity="0.55" stroke-width="0.35"/>
<rect x="243.53" y="506.07" width="7.6" height="2.65" fill="#4000ff" stroke="#333" stroke-opacity="0.55" stroke-width="0.35"/>
<rect x="243.53" y="503.59" width="7.6" height="2.48" fill="#a000ff" stroke="#333" stroke-opacity="0.55" stroke-width="0.35"/>
<rect x="243.53" y="499.95" width="7.6" height="3.64" fill="#ff6600" stroke="#333" stroke-opacity="0.55" stroke-width="0.35"/>
<rect x="243.53" y="496.98" width="7.6" height="2.98" fill="#4000ff" stroke="#333" stroke-opacity="0.55" stroke-width="0.35"/>
<rect x="243.53" y="494.00" width="7.6" height="2.98" fill="#ff0000" stroke="#333" stroke-opacity="0.55" stroke-width="0.35"/>
<rect x="243.53" y="489.37" width="7.6" height="4.63" fill="#fff000" stroke="#333" stroke-opacity="0.55" stroke-width="0.35"/>
<rect x="243.53" y="487.05" width="7.6" height="2.32" fill="#00ff00" stroke="#333" stroke-opacity="0.55" stroke-width="0.35"/>
<rect x="243.53" y="484.90" width="7.6" height="2.15" fill="#4000ff" stroke="#333" stroke-opacity="0.55" stroke-width="0.35"/>
<rect x="243.53" y="407.00" width="7.6" height="77.90" fill="#808080" stroke="#333" stroke-opacity="0.55" stroke-width="0.35"/>
<rect x="243.53" y="407.00" width="7.6" height="165.40" fill="none" stroke="#444" stroke-width="0.6"/>
<line x1="247.33" y1="572.40" x2="247.33" y2="575.40" stroke="#3a3a3a" stroke-width="0.8"/>
<text x="247.33" y="582.80" font-size="5.6" text-anchor="middle" fill="#000000">H</text>
<rect x="252.96" y="522.12" width="7.6" height="50.28" fill="#ff0000" stroke="#333" stroke-opacity="0.55" stroke-width="0.35"/>
<rect x="252.96" y="504.26" width="7.6" height="17.86" fill="#ff6600" stroke="#333" stroke-opacity="0.55" stroke-width="0.35"/>
<rect x="252.96" y="478.45" width="7.6" height="25.80" fill="#fff000" stroke="#333" stroke-opacity="0.55" stroke-width="0.35"/>
<rect x="252.96" y="477.30" width="7.6" height="1.16" fill="#00ff00" stroke="#333" stroke-opacity="0.55" stroke-width="0.35"/>
<rect x="252.96" y="475.48" width="7.6" height="1.82" fill="#ff6600" stroke="#333" stroke-opacity="0.55" stroke-width="0.35"/>
<rect x="252.96" y="473.66" width="7.6" height="1.82" fill="#00ff00" stroke="#333" stroke-opacity="0.55" stroke-width="0.35"/>
<rect x="252.96" y="471.67" width="7.6" height="1.98" fill="#4000ff" stroke="#333" stroke-opacity="0.55" stroke-width="0.35"/>
<rect x="252.96" y="470.68" width="7.6" height="0.99" fill="#ff6600" stroke="#333" stroke-opacity="0.55" stroke-width="0.35"/>
<rect x="252.96" y="464.89" width="7.6" height="5.79" fill="#fff000" stroke="#333" stroke-opacity="0.55" stroke-width="0.35"/>
<rect x="252.96" y="461.91" width="7.6" height="2.98" fill="#00ff00" stroke="#333" stroke-opacity="0.55" stroke-width="0.35"/>
<rect x="252.96" y="407.00" width="7.6" height="54.91" fill="#808080" stroke="#333" stroke-opacity="0.55" stroke-width="0.35"/>
<rect x="252.96" y="407.00" width="7.6" height="165.40" fill="none" stroke="#444" stroke-width="0.6"/>
<line x1="256.76" y1="572.40" x2="256.76" y2="575.40" stroke="#3a3a3a" stroke-width="0.8"/>
<text x="256.76" y="582.80" font-size="5.6" text-anchor="middle" fill="#000000">H</text>
<rect x="262.39" y="553.21" width="7.6" height="19.19" fill="#ff0000" stroke="#333" stroke-opacity="0.55" stroke-width="0.35"/>
<rect x="262.39" y="548.09" width="7.6" height="5.13" fill="#ff6600" stroke="#333" stroke-opacity="0.55" stroke-width="0.35"/>
<rect x="262.39" y="530.22" width="7.6" height="17.86" fill="#fff000" stroke="#333" stroke-opacity="0.55" stroke-width="0.35"/>
<rect x="262.39" y="526.25" width="7.6" height="3.97" fill="#00ff00" stroke="#333" stroke-opacity="0.55" stroke-width="0.35"/>
<rect x="262.39" y="521.13" width="7.6" height="5.13" fill="#4000ff" stroke="#333" stroke-opacity="0.55" stroke-width="0.35"/>
<rect x="262.39" y="519.64" width="7.6" height="1.49" fill="#ff0000" stroke="#333" stroke-opacity="0.55" stroke-width="0.35"/>
<rect x="262.39" y="517.49" width="7.6" height="2.15" fill="#ff6600" stroke="#333" stroke-opacity="0.55" stroke-width="0.35"/>
<rect x="262.39" y="514.84" width="7.6" height="2.65" fill="#4000ff" stroke="#333" stroke-opacity="0.55" stroke-width="0.35"/>
<rect x="262.39" y="510.87" width="7.6" height="3.97" fill="#ff0000" stroke="#333" stroke-opacity="0.55" stroke-width="0.35"/>
<rect x="262.39" y="508.72" width="7.6" height="2.15" fill="#fff000" stroke="#333" stroke-opacity="0.55" stroke-width="0.35"/>
<rect x="262.39" y="505.74" width="7.6" height="2.98" fill="#00ff00" stroke="#333" stroke-opacity="0.55" stroke-width="0.35"/>
<rect x="262.39" y="407.00" width="7.6" height="98.74" fill="#808080" stroke="#333" stroke-opacity="0.55" stroke-width="0.35"/>
<rect x="262.39" y="407.00" width="7.6" height="165.40" fill="none" stroke="#444" stroke-width="0.6"/>
<line x1="266.19" y1="572.40" x2="266.19" y2="575.40" stroke="#3a3a3a" stroke-width="0.8"/>
<text x="266.19" y="582.80" font-size="5.6" text-anchor="middle" fill="#000000">H</text>
<line x1="44.30" y1="406.60" x2="44.30" y2="572.85" stroke="#3a3a3a" stroke-width="1.1"/>
<line x1="43.85" y1="572.40" x2="270.49" y2="572.40" stroke="#3a3a3a" stroke-width="1.1"/>
<line x1="41.30" y1="572.40" x2="44.30" y2="572.40" stroke="#3a3a3a" stroke-width="1.1"/>
<text x="39.70" y="574.60" font-size="6.2" text-anchor="end" fill="#000000">0</text>
<line x1="41.30" y1="539.32" x2="44.30" y2="539.32" stroke="#3a3a3a" stroke-width="1.1"/>
<text x="39.70" y="541.52" font-size="6.2" text-anchor="end" fill="#000000">20</text>
<line x1="41.30" y1="506.24" x2="44.30" y2="506.24" stroke="#3a3a3a" stroke-width="1.1"/>
<text x="39.70" y="508.44" font-size="6.2" text-anchor="end" fill="#000000">40</text>
<line x1="41.30" y1="473.16" x2="44.30" y2="473.16" stroke="#3a3a3a" stroke-width="1.1"/>
<text x="39.70" y="475.36" font-size="6.2" text-anchor="end" fill="#000000">60</text>
<line x1="41.30" y1="440.08" x2="44.30" y2="440.08" stroke="#3a3a3a" stroke-width="1.1"/>
<text x="39.70" y="442.28" font-size="6.2" text-anchor="end" fill="#000000">80</text>
<line x1="41.30" y1="407.00" x2="44.30" y2="407.00" stroke="#3a3a3a" stroke-width="1.1"/>
<text x="39.70" y="409.20" font-size="6.2" text-anchor="end" fill="#000000">100</text>
<line x1="42.70" y1="555.86" x2="44.30" y2="555.86" stroke="#3a3a3a" stroke-width="1.1"/>
<line x1="42.70" y1="522.78" x2="44.30" y2="522.78" stroke="#3a3a3a" stroke-width="1.1"/>
<line x1="42.70" y1="489.70" x2="44.30" y2="489.70" stroke="#3a3a3a" stroke-width="1.1"/>
<line x1="42.70" y1="456.62" x2="44.30" y2="456.62" stroke="#3a3a3a" stroke-width="1.1"/>
<line x1="42.70" y1="423.54" x2="44.30" y2="423.54" stroke="#3a3a3a" stroke-width="1.1"/>
<text x="25.00" y="490.20" font-size="7.7" text-anchor="middle" fill="#000000" transform="rotate(-90 25.00 490.20)">Relative Frequency (%)</text>
<rect x="395.00" y="495.32" width="7.4" height="77.08" fill="#ff0000" stroke="#333" stroke-opacity="0.55" stroke-width="0.35"/>
<rect x="395.00" y="445.21" width="7.4" height="50.12" fill="#ff6600" stroke="#333" stroke-opacity="0.55" stroke-width="0.35"/>
<rect x="395.00" y="420.40" width="7.4" height="24.81" fill="#fff000" stroke="#333" stroke-opacity="0.55" stroke-width="0.35"/>
<rect x="395.00" y="418.25" width="7.4" height="2.15" fill="#00ff00" stroke="#333" stroke-opacity="0.55" stroke-width="0.35"/>
<rect x="395.00" y="415.27" width="7.4" height="2.98" fill="#4000ff" stroke="#333" stroke-opacity="0.55" stroke-width="0.35"/>
<rect x="395.00" y="414.11" width="7.4" height="1.16" fill="#ff0000" stroke="#333" stroke-opacity="0.55" stroke-width="0.35"/>
<rect x="395.00" y="413.12" width="7.4" height="0.99" fill="#006030" stroke="#333" stroke-opacity="0.55" stroke-width="0.35"/>
<rect x="395.00" y="410.97" width="7.4" height="2.15" fill="#101018" stroke="#333" stroke-opacity="0.55" stroke-width="0.35"/>
<rect x="395.00" y="407.00" width="7.4" height="3.97" fill="#808080" stroke="#333" stroke-opacity="0.55" stroke-width="0.35"/>
<rect x="395.00" y="407.00" width="7.4" height="165.40" fill="none" stroke="#444" stroke-width="0.6"/>
<line x1="398.70" y1="572.40" x2="398.70" y2="575.40" stroke="#3a3a3a" stroke-width="0.8"/>
<text x="398.70" y="582.80" font-size="5.6" text-anchor="middle" fill="#000000">D</text>
<rect x="404.39" y="497.97" width="7.4" height="74.43" fill="#ff0000" stroke="#333" stroke-opacity="0.55" stroke-width="0.35"/>
<rect x="404.39" y="470.18" width="7.4" height="27.79" fill="#ff6600" stroke="#333" stroke-opacity="0.55" stroke-width="0.35"/>
<rect x="404.39" y="420.07" width="7.4" height="50.12" fill="#fff000" stroke="#333" stroke-opacity="0.55" stroke-width="0.35"/>
<rect x="404.39" y="418.91" width="7.4" height="1.16" fill="#00ff00" stroke="#333" stroke-opacity="0.55" stroke-width="0.35"/>
<rect x="404.39" y="416.10" width="7.4" height="2.81" fill="#4000ff" stroke="#333" stroke-opacity="0.55" stroke-width="0.35"/>
<rect x="404.39" y="414.94" width="7.4" height="1.16" fill="#00ff00" stroke="#333" stroke-opacity="0.55" stroke-width="0.35"/>
<rect x="404.39" y="413.78" width="7.4" height="1.16" fill="#ff0000" stroke="#333" stroke-opacity="0.55" stroke-width="0.35"/>
<rect x="404.39" y="411.63" width="7.4" height="2.15" fill="#200080" stroke="#333" stroke-opacity="0.55" stroke-width="0.35"/>
<rect x="404.39" y="407.00" width="7.4" height="4.63" fill="#808080" stroke="#333" stroke-opacity="0.55" stroke-width="0.35"/>
<rect x="404.39" y="407.00" width="7.4" height="165.40" fill="none" stroke="#444" stroke-width="0.6"/>
<line x1="408.09" y1="572.40" x2="408.09" y2="575.40" stroke="#3a3a3a" stroke-width="0.8"/>
<text x="408.09" y="582.80" font-size="5.6" text-anchor="middle" fill="#000000">D</text>
<rect x="413.78" y="505.08" width="7.4" height="67.32" fill="#ff0000" stroke="#333" stroke-opacity="0.55" stroke-width="0.35"/>
<rect x="413.78" y="497.97" width="7.4" height="7.11" fill="#ff6600" stroke="#333" stroke-opacity="0.55" stroke-width="0.35"/>
<rect x="413.78" y="480.44" width="7.4" height="17.53" fill="#fff000" stroke="#333" stroke-opacity="0.55" stroke-width="0.35"/>
<rect x="413.78" y="470.02" width="7.4" height="10.42" fill="#00ff00" stroke="#333" stroke-opacity="0.55" stroke-width="0.35"/>
<rect x="413.78" y="461.91" width="7.4" height="8.10" fill="#0080ff" stroke="#333" stroke-opacity="0.55" stroke-width="0.35"/>
<rect x="413.78" y="455.46" width="7.4" height="6.45" fill="#a000ff" stroke="#333" stroke-opacity="0.55" stroke-width="0.35"/>
<rect x="413.78" y="453.64" width="7.4" height="1.82" fill="#00ff00" stroke="#333" stroke-opacity="0.55" stroke-width="0.35"/>
<rect x="413.78" y="451.00" width="7.4" height="2.65" fill="#0080ff" stroke="#333" stroke-opacity="0.55" stroke-width="0.35"/>
<rect x="413.78" y="448.02" width="7.4" height="2.98" fill="#4000ff" stroke="#333" stroke-opacity="0.55" stroke-width="0.35"/>
<rect x="413.78" y="446.37" width="7.4" height="1.65" fill="#ff0000" stroke="#333" stroke-opacity="0.55" stroke-width="0.35"/>
<rect x="413.78" y="432.14" width="7.4" height="14.22" fill="#ff6600" stroke="#333" stroke-opacity="0.55" stroke-width="0.35"/>
<rect x="413.78" y="430.32" width="7.4" height="1.82" fill="#fff000" stroke="#333" stroke-opacity="0.55" stroke-width="0.35"/>
<rect x="413.78" y="427.68" width="7.4" height="2.65" fill="#0080ff" stroke="#333" stroke-opacity="0.55" stroke-width="0.35"/>
<rect x="413.78" y="421.06" width="7.4" height="6.62" fill="#4000ff" stroke="#333" stroke-opacity="0.55" stroke-width="0.35"/>
<rect x="413.78" y="407.00" width="7.4" height="14.06" fill="#808080" stroke="#333" stroke-opacity="0.55" stroke-width="0.35"/>
<rect x="413.78" y="407.00" width="7.4" height="165.40" fill="none" stroke="#444" stroke-width="0.6"/>
<line x1="417.48" y1="572.40" x2="417.48" y2="575.40" stroke="#3a3a3a" stroke-width="0.8"/>
<text x="417.48" y="582.80" font-size="5.6" text-anchor="middle" fill="#000000">D</text>
<rect x="423.17" y="543.95" width="7.4" height="28.45" fill="#ff0000" stroke="#333" stroke-opacity="0.55" stroke-width="0.35"/>
<rect x="423.17" y="532.37" width="7.4" height="11.58" fill="#ff6600" stroke="#333" stroke-opacity="0.55" stroke-width="0.35"/>
<rect x="423.17" y="488.21" width="7.4" height="44.16" fill="#fff000" stroke="#333" stroke-opacity="0.55" stroke-width="0.35"/>
<rect x="423.17" y="469.69" width="7.4" height="18.52" fill="#00ff00" stroke="#333" stroke-opacity="0.55" stroke-width="0.35"/>
<rect x="423.17" y="463.40" width="7.4" height="6.29" fill="#0080ff" stroke="#333" stroke-opacity="0.55" stroke-width="0.35"/>
<rect x="423.17" y="459.43" width="7.4" height="3.97" fill="#a000ff" stroke="#333" stroke-opacity="0.55" stroke-width="0.35"/>
<rect x="423.17" y="457.61" width="7.4" height="1.82" fill="#ff6600" stroke="#333" stroke-opacity="0.55" stroke-width="0.35"/>
<rect x="423.17" y="456.12" width="7.4" height="1.49" fill="#00ff00" stroke="#333" stroke-opacity="0.55" stroke-width="0.35"/>
<rect x="423.17" y="451.00" width="7.4" height="5.13" fill="#4000ff" stroke="#333" stroke-opacity="0.55" stroke-width="0.35"/>
<rect x="423.17" y="449.34" width="7.4" height="1.65" fill="#a000ff" stroke="#333" stroke-opacity="0.55" stroke-width="0.35"/>
<rect x="423.17" y="446.86" width="7.4" height="2.48" fill="#ff0000" stroke="#333" stroke-opacity="0.55" stroke-width="0.35"/>
<rect x="423.17" y="440.08" width="7.4" height="6.78" fill="#ff6600" stroke="#333" stroke-opacity="0.55" stroke-width="0.35"/>
<rect x="423.17" y="438.59" width="7.4" height="1.49" fill="#fff000" stroke="#333" stroke-opacity="0.55" stroke-width="0.35"/>
<rect x="423.17" y="435.78" width="7.4" height="2.81" fill="#00ff00" stroke="#333" stroke-opacity="0.55" stroke-width="0.35"/>
<rect x="423.17" y="433.79" width="7.4" height="1.98" fill="#0080ff" stroke="#333" stroke-opacity="0.55" stroke-width="0.35"/>
<rect x="423.17" y="421.06" width="7.4" height="12.74" fill="#4000ff" stroke="#333" stroke-opacity="0.55" stroke-width="0.35"/>
<rect x="423.17" y="407.00" width="7.4" height="14.06" fill="#808080" stroke="#333" stroke-opacity="0.55" stroke-width="0.35"/>
<rect x="423.17" y="407.00" width="7.4" height="165.40" fill="none" stroke="#444" stroke-width="0.6"/>
<line x1="426.87" y1="572.40" x2="426.87" y2="575.40" stroke="#3a3a3a" stroke-width="0.8"/>
<text x="426.87" y="582.80" font-size="5.6" text-anchor="middle" fill="#000000">D</text>
<rect x="432.56" y="500.29" width="7.4" height="72.11" fill="#ff0000" stroke="#333" stroke-opacity="0.55" stroke-width="0.35"/>
<rect x="432.56" y="487.05" width="7.4" height="13.23" fill="#ff6600" stroke="#333" stroke-opacity="0.55" stroke-width="0.35"/>
<rect x="432.56" y="416.26" width="7.4" height="70.79" fill="#fff000" stroke="#333" stroke-opacity="0.55" stroke-width="0.35"/>
<rect x="432.56" y="414.94" width="7.4" height="1.32" fill="#00ff00" stroke="#333" stroke-opacity="0.55" stroke-width="0.35"/>
<rect x="432.56" y="413.78" width="7.4" height="1.16" fill="#4000ff" stroke="#333" stroke-opacity="0.55" stroke-width="0.35"/>
<rect x="432.56" y="411.96" width="7.4" height="1.82" fill="#006030" stroke="#333" stroke-opacity="0.55" stroke-width="0.35"/>
<rect x="432.56" y="409.98" width="7.4" height="1.98" fill="#101018" stroke="#333" stroke-opacity="0.55" stroke-width="0.35"/>
<rect x="432.56" y="407.00" width="7.4" height="2.98" fill="#808080" stroke="#333" stroke-opacity="0.55" stroke-width="0.35"/>
<rect x="432.56" y="407.00" width="7.4" height="165.40" fill="none" stroke="#444" stroke-width="0.6"/>
<line x1="436.26" y1="572.40" x2="436.26" y2="575.40" stroke="#3a3a3a" stroke-width="0.8"/>
<text x="436.26" y="582.80" font-size="5.6" text-anchor="middle" fill="#000000">D</text>
<rect x="441.95" y="511.37" width="7.4" height="61.03" fill="#ff0000" stroke="#333" stroke-opacity="0.55" stroke-width="0.35"/>
<rect x="441.95" y="472.17" width="7.4" height="39.20" fill="#ff6600" stroke="#333" stroke-opacity="0.55" stroke-width="0.35"/>
<rect x="441.95" y="420.89" width="7.4" height="51.27" fill="#fff000" stroke="#333" stroke-opacity="0.55" stroke-width="0.35"/>
<rect x="441.95" y="419.24" width="7.4" height="1.65" fill="#00ff00" stroke="#333" stroke-opacity="0.55" stroke-width="0.35"/>
<rect x="441.95" y="417.75" width="7.4" height="1.49" fill="#4000ff" stroke="#333" stroke-opacity="0.55" stroke-width="0.35"/>
<rect x="441.95" y="415.77" width="7.4" height="1.98" fill="#ff0000" stroke="#333" stroke-opacity="0.55" stroke-width="0.35"/>
<rect x="441.95" y="413.78" width="7.4" height="1.98" fill="#00ff00" stroke="#333" stroke-opacity="0.55" stroke-width="0.35"/>
<rect x="441.95" y="411.96" width="7.4" height="1.82" fill="#101018" stroke="#333" stroke-opacity="0.55" stroke-width="0.35"/>
<rect x="441.95" y="407.00" width="7.4" height="4.96" fill="#808080" stroke="#333" stroke-opacity="0.55" stroke-width="0.35"/>
<rect x="441.95" y="407.00" width="7.4" height="165.40" fill="none" stroke="#444" stroke-width="0.6"/>
<line x1="445.65" y1="572.40" x2="445.65" y2="575.40" stroke="#3a3a3a" stroke-width="0.8"/>
<text x="445.65" y="582.80" font-size="5.6" text-anchor="middle" fill="#000000">D</text>
<rect x="451.34" y="568.60" width="7.4" height="3.80" fill="#ff0000" stroke="#333" stroke-opacity="0.55" stroke-width="0.35"/>
<rect x="451.34" y="543.95" width="7.4" height="24.64" fill="#ff6600" stroke="#333" stroke-opacity="0.55" stroke-width="0.35"/>
<rect x="451.34" y="525.76" width="7.4" height="18.19" fill="#fff000" stroke="#333" stroke-opacity="0.55" stroke-width="0.35"/>
<rect x="451.34" y="487.05" width="7.4" height="38.70" fill="#00ff00" stroke="#333" stroke-opacity="0.55" stroke-width="0.35"/>
<rect x="451.34" y="476.96" width="7.4" height="10.09" fill="#0080ff" stroke="#333" stroke-opacity="0.55" stroke-width="0.35"/>
<rect x="451.34" y="473.33" width="7.4" height="3.64" fill="#a000ff" stroke="#333" stroke-opacity="0.55" stroke-width="0.35"/>
<rect x="451.34" y="471.34" width="7.4" height="1.98" fill="#fff000" stroke="#333" stroke-opacity="0.55" stroke-width="0.35"/>
<rect x="451.34" y="469.19" width="7.4" height="2.15" fill="#00ff00" stroke="#333" stroke-opacity="0.55" stroke-width="0.35"/>
<rect x="451.34" y="466.71" width="7.4" height="2.48" fill="#0080ff" stroke="#333" stroke-opacity="0.55" stroke-width="0.35"/>
<rect x="451.34" y="456.79" width="7.4" height="9.92" fill="#4000ff" stroke="#333" stroke-opacity="0.55" stroke-width="0.35"/>
<rect x="451.34" y="454.64" width="7.4" height="2.15" fill="#a000ff" stroke="#333" stroke-opacity="0.55" stroke-width="0.35"/>
<rect x="451.34" y="451.33" width="7.4" height="3.31" fill="#ff0000" stroke="#333" stroke-opacity="0.55" stroke-width="0.35"/>
<rect x="451.34" y="438.26" width="7.4" height="13.07" fill="#ff6600" stroke="#333" stroke-opacity="0.55" stroke-width="0.35"/>
<rect x="451.34" y="434.62" width="7.4" height="3.64" fill="#fff000" stroke="#333" stroke-opacity="0.55" stroke-width="0.35"/>
<rect x="451.34" y="432.31" width="7.4" height="2.32" fill="#0080ff" stroke="#333" stroke-opacity="0.55" stroke-width="0.35"/>
<rect x="451.34" y="426.02" width="7.4" height="6.29" fill="#4000ff" stroke="#333" stroke-opacity="0.55" stroke-width="0.35"/>
<rect x="451.34" y="407.00" width="7.4" height="19.02" fill="#808080" stroke="#333" stroke-opacity="0.55" stroke-width="0.35"/>
<rect x="451.34" y="407.00" width="7.4" height="165.40" fill="none" stroke="#444" stroke-width="0.6"/>
<line x1="455.04" y1="572.40" x2="455.04" y2="575.40" stroke="#3a3a3a" stroke-width="0.8"/>
<text x="455.04" y="582.80" font-size="5.6" text-anchor="middle" fill="#000000">D</text>
<rect x="460.73" y="413.12" width="7.4" height="159.28" fill="#ff6600" stroke="#333" stroke-opacity="0.55" stroke-width="0.35"/>
<rect x="460.73" y="411.63" width="7.4" height="1.49" fill="#006030" stroke="#333" stroke-opacity="0.55" stroke-width="0.35"/>
<rect x="460.73" y="410.14" width="7.4" height="1.49" fill="#200080" stroke="#333" stroke-opacity="0.55" stroke-width="0.35"/>
<rect x="460.73" y="408.82" width="7.4" height="1.32" fill="#ff0000" stroke="#333" stroke-opacity="0.55" stroke-width="0.35"/>
<rect x="460.73" y="407.00" width="7.4" height="1.82" fill="#808080" stroke="#333" stroke-opacity="0.55" stroke-width="0.35"/>
<rect x="460.73" y="407.00" width="7.4" height="165.40" fill="none" stroke="#444" stroke-width="0.6"/>
<line x1="464.43" y1="572.40" x2="464.43" y2="575.40" stroke="#3a3a3a" stroke-width="0.8"/>
<text x="464.43" y="582.80" font-size="5.6" text-anchor="middle" fill="#000000">WD</text>
<rect x="470.12" y="432.80" width="7.4" height="139.60" fill="#ff6600" stroke="#333" stroke-opacity="0.55" stroke-width="0.35"/>
<rect x="470.12" y="429.66" width="7.4" height="3.14" fill="#00ff00" stroke="#333" stroke-opacity="0.55" stroke-width="0.35"/>
<rect x="470.12" y="427.01" width="7.4" height="2.65" fill="#0080ff" stroke="#333" stroke-opacity="0.55" stroke-width="0.35"/>
<rect x="470.12" y="424.53" width="7.4" height="2.48" fill="#00ff00" stroke="#333" stroke-opacity="0.55" stroke-width="0.35"/>
<rect x="470.12" y="423.04" width="7.4" height="1.49" fill="#200080" stroke="#333" stroke-opacity="0.55" stroke-width="0.35"/>
<rect x="470.12" y="420.89" width="7.4" height="2.15" fill="#ff0000" stroke="#333" stroke-opacity="0.55" stroke-width="0.35"/>
<rect x="470.12" y="407.00" width="7.4" height="13.89" fill="#808080" stroke="#333" stroke-opacity="0.55" stroke-width="0.35"/>
<rect x="470.12" y="407.00" width="7.4" height="165.40" fill="none" stroke="#444" stroke-width="0.6"/>
<line x1="473.82" y1="572.40" x2="473.82" y2="575.40" stroke="#3a3a3a" stroke-width="0.8"/>
<text x="473.82" y="582.80" font-size="5.6" text-anchor="middle" fill="#000000">WD</text>
<rect x="479.51" y="565.29" width="7.4" height="7.11" fill="#ff0000" stroke="#333" stroke-opacity="0.55" stroke-width="0.35"/>
<rect x="479.51" y="543.79" width="7.4" height="21.50" fill="#ff6600" stroke="#333" stroke-opacity="0.55" stroke-width="0.35"/>
<rect x="479.51" y="518.15" width="7.4" height="25.64" fill="#fff000" stroke="#333" stroke-opacity="0.55" stroke-width="0.35"/>
<rect x="479.51" y="493.83" width="7.4" height="24.31" fill="#00ff00" stroke="#333" stroke-opacity="0.55" stroke-width="0.35"/>
<rect x="479.51" y="482.42" width="7.4" height="11.41" fill="#0080ff" stroke="#333" stroke-opacity="0.55" stroke-width="0.35"/>
<rect x="479.51" y="476.47" width="7.4" height="5.95" fill="#a000ff" stroke="#333" stroke-opacity="0.55" stroke-width="0.35"/>
<rect x="479.51" y="474.98" width="7.4" height="1.49" fill="#ff6600" stroke="#333" stroke-opacity="0.55" stroke-width="0.35"/>
<rect x="479.51" y="472.50" width="7.4" height="2.48" fill="#00ff00" stroke="#333" stroke-opacity="0.55" stroke-width="0.35"/>
<rect x="479.51" y="470.02" width="7.4" height="2.48" fill="#0080ff" stroke="#333" stroke-opacity="0.55" stroke-width="0.35"/>
<rect x="479.51" y="465.88" width="7.4" height="4.14" fill="#4000ff" stroke="#333" stroke-opacity="0.55" stroke-width="0.35"/>
<rect x="479.51" y="461.91" width="7.4" height="3.97" fill="#ff0000" stroke="#333" stroke-opacity="0.55" stroke-width="0.35"/>
<rect x="479.51" y="442.56" width="7.4" height="19.35" fill="#ff6600" stroke="#333" stroke-opacity="0.55" stroke-width="0.35"/>
<rect x="479.51" y="441.57" width="7.4" height="0.99" fill="#006030" stroke="#333" stroke-opacity="0.55" stroke-width="0.35"/>
<rect x="479.51" y="435.78" width="7.4" height="5.79" fill="#0080ff" stroke="#333" stroke-opacity="0.55" stroke-width="0.35"/>
<rect x="479.51" y="429.16" width="7.4" height="6.62" fill="#4000ff" stroke="#333" stroke-opacity="0.55" stroke-width="0.35"/>
<rect x="479.51" y="407.00" width="7.4" height="22.16" fill="#808080" stroke="#333" stroke-opacity="0.55" stroke-width="0.35"/>
<rect x="479.51" y="407.00" width="7.4" height="165.40" fill="none" stroke="#444" stroke-width="0.6"/>
<line x1="483.21" y1="572.40" x2="483.21" y2="575.40" stroke="#3a3a3a" stroke-width="0.8"/>
<text x="483.21" y="582.80" font-size="5.6" text-anchor="middle" fill="#000000">WD</text>
<rect x="488.90" y="487.05" width="7.4" height="85.35" fill="#ff6600" stroke="#333" stroke-opacity="0.55" stroke-width="0.35"/>
<rect x="488.90" y="484.57" width="7.4" height="2.48" fill="#fff000" stroke="#333" stroke-opacity="0.55" stroke-width="0.35"/>
<rect x="488.90" y="474.32" width="7.4" height="10.25" fill="#00ff00" stroke="#333" stroke-opacity="0.55" stroke-width="0.35"/>
<rect x="488.90" y="471.34" width="7.4" height="2.98" fill="#0080ff" stroke="#333" stroke-opacity="0.55" stroke-width="0.35"/>
<rect x="488.90" y="470.02" width="7.4" height="1.32" fill="#ff6600" stroke="#333" stroke-opacity="0.55" stroke-width="0.35"/>
<rect x="488.90" y="468.86" width="7.4" height="1.16" fill="#006030" stroke="#333" stroke-opacity="0.55" stroke-width="0.35"/>
<rect x="488.90" y="434.29" width="7.4" height="34.57" fill="#4000ff" stroke="#333" stroke-opacity="0.55" stroke-width="0.35"/>
<rect x="488.90" y="431.81" width="7.4" height="2.48" fill="#ff0000" stroke="#333" stroke-opacity="0.55" stroke-width="0.35"/>
<rect x="488.90" y="430.32" width="7.4" height="1.49" fill="#ff6600" stroke="#333" stroke-opacity="0.55" stroke-width="0.35"/>
<rect x="488.90" y="421.89" width="7.4" height="8.44" fill="#fff000" stroke="#333" stroke-opacity="0.55" stroke-width="0.35"/>
<rect x="488.90" y="407.00" width="7.4" height="14.89" fill="#808080" stroke="#333" stroke-opacity="0.55" stroke-width="0.35"/>
<rect x="488.90" y="407.00" width="7.4" height="165.40" fill="none" stroke="#444" stroke-width="0.6"/>
<line x1="492.60" y1="572.40" x2="492.60" y2="575.40" stroke="#3a3a3a" stroke-width="0.8"/>
<text x="492.60" y="582.80" font-size="5.6" text-anchor="middle" fill="#000000">WD</text>
<rect x="498.29" y="443.39" width="7.4" height="129.01" fill="#ff6600" stroke="#333" stroke-opacity="0.55" stroke-width="0.35"/>
<rect x="498.29" y="440.74" width="7.4" height="2.65" fill="#00ff00" stroke="#333" stroke-opacity="0.55" stroke-width="0.35"/>
<rect x="498.29" y="438.26" width="7.4" height="2.48" fill="#006030" stroke="#333" stroke-opacity="0.55" stroke-width="0.35"/>
<rect x="498.29" y="435.78" width="7.4" height="2.48" fill="#0080ff" stroke="#333" stroke-opacity="0.55" stroke-width="0.35"/>
<rect x="498.29" y="427.34" width="7.4" height="8.44" fill="#4000ff" stroke="#333" stroke-opacity="0.55" stroke-width="0.35"/>
<rect x="498.29" y="424.04" width="7.4" height="3.31" fill="#ff0000" stroke="#333" stroke-opacity="0.55" stroke-width="0.35"/>
<rect x="498.29" y="420.40" width="7.4" height="3.64" fill="#fff000" stroke="#333" stroke-opacity="0.55" stroke-width="0.35"/>
<rect x="498.29" y="407.00" width="7.4" height="13.40" fill="#808080" stroke="#333" stroke-opacity="0.55" stroke-width="0.35"/>
<rect x="498.29" y="407.00" width="7.4" height="165.40" fill="none" stroke="#444" stroke-width="0.6"/>
<line x1="501.99" y1="572.40" x2="501.99" y2="575.40" stroke="#3a3a3a" stroke-width="0.8"/>
<text x="501.99" y="582.80" font-size="5.6" text-anchor="middle" fill="#000000">WD</text>
<rect x="507.68" y="426.52" width="7.4" height="145.88" fill="#ff6600" stroke="#333" stroke-opacity="0.55" stroke-width="0.35"/>
<rect x="507.68" y="424.53" width="7.4" height="1.98" fill="#00ff00" stroke="#333" stroke-opacity="0.55" stroke-width="0.35"/>
<rect x="507.68" y="423.37" width="7.4" height="1.16" fill="#0080ff" stroke="#333" stroke-opacity="0.55" stroke-width="0.35"/>
<rect x="507.68" y="421.89" width="7.4" height="1.49" fill="#00ff00" stroke="#333" stroke-opacity="0.55" stroke-width="0.35"/>
<rect x="507.68" y="420.40" width="7.4" height="1.49" fill="#4000ff" stroke="#333" stroke-opacity="0.55" stroke-width="0.35"/>
<rect x="507.68" y="417.25" width="7.4" height="3.14" fill="#ff0000" stroke="#333" stroke-opacity="0.55" stroke-width="0.35"/>
<rect x="507.68" y="415.77" width="7.4" height="1.49" fill="#200080" stroke="#333" stroke-opacity="0.55" stroke-width="0.35"/>
<rect x="507.68" y="407.00" width="7.4" height="8.77" fill="#808080" stroke="#333" stroke-opacity="0.55" stroke-width="0.35"/>
<rect x="507.68" y="407.00" width="7.4" height="165.40" fill="none" stroke="#444" stroke-width="0.6"/>
<line x1="511.38" y1="572.40" x2="511.38" y2="575.40" stroke="#3a3a3a" stroke-width="0.8"/>
<text x="511.38" y="582.80" font-size="5.6" text-anchor="middle" fill="#000000">WD</text>
<rect x="517.07" y="421.89" width="7.4" height="150.51" fill="#ff6600" stroke="#333" stroke-opacity="0.55" stroke-width="0.35"/>
<rect x="517.07" y="419.74" width="7.4" height="2.15" fill="#00ff00" stroke="#333" stroke-opacity="0.55" stroke-width="0.35"/>
<rect x="517.07" y="417.42" width="7.4" height="2.32" fill="#200080" stroke="#333" stroke-opacity="0.55" stroke-width="0.35"/>
<rect x="517.07" y="415.77" width="7.4" height="1.65" fill="#ff0000" stroke="#333" stroke-opacity="0.55" stroke-width="0.35"/>
<rect x="517.07" y="411.63" width="7.4" height="4.13" fill="#fff000" stroke="#333" stroke-opacity="0.55" stroke-width="0.35"/>
<rect x="517.07" y="407.00" width="7.4" height="4.63" fill="#808080" stroke="#333" stroke-opacity="0.55" stroke-width="0.35"/>
<rect x="517.07" y="407.00" width="7.4" height="165.40" fill="none" stroke="#444" stroke-width="0.6"/>
<line x1="520.77" y1="572.40" x2="520.77" y2="575.40" stroke="#3a3a3a" stroke-width="0.8"/>
<text x="520.77" y="582.80" font-size="5.6" text-anchor="middle" fill="#000000">WD</text>
<rect x="526.46" y="433.30" width="7.4" height="139.10" fill="#ff6600" stroke="#333" stroke-opacity="0.55" stroke-width="0.35"/>
<rect x="526.46" y="430.32" width="7.4" height="2.98" fill="#00ff00" stroke="#333" stroke-opacity="0.55" stroke-width="0.35"/>
<rect x="526.46" y="428.01" width="7.4" height="2.32" fill="#0080ff" stroke="#333" stroke-opacity="0.55" stroke-width="0.35"/>
<rect x="526.46" y="426.52" width="7.4" height="1.49" fill="#4000ff" stroke="#333" stroke-opacity="0.55" stroke-width="0.35"/>
<rect x="526.46" y="422.55" width="7.4" height="3.97" fill="#00ff00" stroke="#333" stroke-opacity="0.55" stroke-width="0.35"/>
<rect x="526.46" y="420.40" width="7.4" height="2.15" fill="#4000ff" stroke="#333" stroke-opacity="0.55" stroke-width="0.35"/>
<rect x="526.46" y="418.58" width="7.4" height="1.82" fill="#006030" stroke="#333" stroke-opacity="0.55" stroke-width="0.35"/>
<rect x="526.46" y="407.00" width="7.4" height="11.58" fill="#808080" stroke="#333" stroke-opacity="0.55" stroke-width="0.35"/>
<rect x="526.46" y="407.00" width="7.4" height="165.40" fill="none" stroke="#444" stroke-width="0.6"/>
<line x1="530.16" y1="572.40" x2="530.16" y2="575.40" stroke="#3a3a3a" stroke-width="0.8"/>
<text x="530.16" y="582.80" font-size="5.6" text-anchor="middle" fill="#000000">WD</text>
<rect x="535.85" y="565.95" width="7.4" height="6.45" fill="#ff0000" stroke="#333" stroke-opacity="0.55" stroke-width="0.35"/>
<rect x="535.85" y="526.25" width="7.4" height="39.70" fill="#ff6600" stroke="#333" stroke-opacity="0.55" stroke-width="0.35"/>
<rect x="535.85" y="511.37" width="7.4" height="14.89" fill="#fff000" stroke="#333" stroke-opacity="0.55" stroke-width="0.35"/>
<rect x="535.85" y="483.41" width="7.4" height="27.95" fill="#00ff00" stroke="#333" stroke-opacity="0.55" stroke-width="0.35"/>
<rect x="535.85" y="474.32" width="7.4" height="9.10" fill="#0080ff" stroke="#333" stroke-opacity="0.55" stroke-width="0.35"/>
<rect x="535.85" y="471.67" width="7.4" height="2.65" fill="#a000ff" stroke="#333" stroke-opacity="0.55" stroke-width="0.35"/>
<rect x="535.85" y="469.69" width="7.4" height="1.98" fill="#ff6600" stroke="#333" stroke-opacity="0.55" stroke-width="0.35"/>
<rect x="535.85" y="468.53" width="7.4" height="1.16" fill="#00ff00" stroke="#333" stroke-opacity="0.55" stroke-width="0.35"/>
<rect x="535.85" y="467.37" width="7.4" height="1.16" fill="#0080ff" stroke="#333" stroke-opacity="0.55" stroke-width="0.35"/>
<rect x="535.85" y="460.09" width="7.4" height="7.28" fill="#4000ff" stroke="#333" stroke-opacity="0.55" stroke-width="0.35"/>
<rect x="535.85" y="458.77" width="7.4" height="1.32" fill="#a000ff" stroke="#333" stroke-opacity="0.55" stroke-width="0.35"/>
<rect x="535.85" y="453.97" width="7.4" height="4.80" fill="#ff0000" stroke="#333" stroke-opacity="0.55" stroke-width="0.35"/>
<rect x="535.85" y="437.93" width="7.4" height="16.04" fill="#ff6600" stroke="#333" stroke-opacity="0.55" stroke-width="0.35"/>
<rect x="535.85" y="435.78" width="7.4" height="2.15" fill="#fff000" stroke="#333" stroke-opacity="0.55" stroke-width="0.35"/>
<rect x="535.85" y="431.31" width="7.4" height="4.47" fill="#0080ff" stroke="#333" stroke-opacity="0.55" stroke-width="0.35"/>
<rect x="535.85" y="422.55" width="7.4" height="8.77" fill="#4000ff" stroke="#333" stroke-opacity="0.55" stroke-width="0.35"/>
<rect x="535.85" y="407.00" width="7.4" height="15.55" fill="#808080" stroke="#333" stroke-opacity="0.55" stroke-width="0.35"/>
<rect x="535.85" y="407.00" width="7.4" height="165.40" fill="none" stroke="#444" stroke-width="0.6"/>
<line x1="539.55" y1="572.40" x2="539.55" y2="575.40" stroke="#3a3a3a" stroke-width="0.8"/>
<text x="539.55" y="582.80" font-size="5.6" text-anchor="middle" fill="#000000">WD</text>
<rect x="545.24" y="569.75" width="7.4" height="2.65" fill="#ff0000" stroke="#333" stroke-opacity="0.55" stroke-width="0.35"/>
<rect x="545.24" y="520.13" width="7.4" height="49.62" fill="#ff6600" stroke="#333" stroke-opacity="0.55" stroke-width="0.35"/>
<rect x="545.24" y="505.08" width="7.4" height="15.05" fill="#fff000" stroke="#333" stroke-opacity="0.55" stroke-width="0.35"/>
<rect x="545.24" y="476.47" width="7.4" height="28.61" fill="#00ff00" stroke="#333" stroke-opacity="0.55" stroke-width="0.35"/>
<rect x="545.24" y="471.18" width="7.4" height="5.29" fill="#0080ff" stroke="#333" stroke-opacity="0.55" stroke-width="0.35"/>
<rect x="545.24" y="468.53" width="7.4" height="2.65" fill="#a000ff" stroke="#333" stroke-opacity="0.55" stroke-width="0.35"/>
<rect x="545.24" y="465.88" width="7.4" height="2.65" fill="#00ff00" stroke="#333" stroke-opacity="0.55" stroke-width="0.35"/>
<rect x="545.24" y="462.91" width="7.4" height="2.98" fill="#4000ff" stroke="#333" stroke-opacity="0.55" stroke-width="0.35"/>
<rect x="545.24" y="461.25" width="7.4" height="1.65" fill="#ff0000" stroke="#333" stroke-opacity="0.55" stroke-width="0.35"/>
<rect x="545.24" y="430.82" width="7.4" height="30.43" fill="#ff6600" stroke="#333" stroke-opacity="0.55" stroke-width="0.35"/>
<rect x="545.24" y="427.68" width="7.4" height="3.14" fill="#0080ff" stroke="#333" stroke-opacity="0.55" stroke-width="0.35"/>
<rect x="545.24" y="421.06" width="7.4" height="6.62" fill="#4000ff" stroke="#333" stroke-opacity="0.55" stroke-width="0.35"/>
<rect x="545.24" y="407.00" width="7.4" height="14.06" fill="#808080" stroke="#333" stroke-opacity="0.55" stroke-width="0.35"/>
<rect x="545.24" y="407.00" width="7.4" height="165.40" fill="none" stroke="#444" stroke-width="0.6"/>
<line x1="548.94" y1="572.40" x2="548.94" y2="575.40" stroke="#3a3a3a" stroke-width="0.8"/>
<text x="548.94" y="582.80" font-size="5.6" text-anchor="middle" fill="#000000">WD</text>
<rect x="554.63" y="437.10" width="7.4" height="135.30" fill="#ff6600" stroke="#333" stroke-opacity="0.55" stroke-width="0.35"/>
<rect x="554.63" y="434.29" width="7.4" height="2.81" fill="#00ff00" stroke="#333" stroke-opacity="0.55" stroke-width="0.35"/>
<rect x="554.63" y="431.31" width="7.4" height="2.98" fill="#4000ff" stroke="#333" stroke-opacity="0.55" stroke-width="0.35"/>
<rect x="554.63" y="428.50" width="7.4" height="2.81" fill="#0080ff" stroke="#333" stroke-opacity="0.55" stroke-width="0.35"/>
<rect x="554.63" y="421.56" width="7.4" height="6.95" fill="#4000ff" stroke="#333" stroke-opacity="0.55" stroke-width="0.35"/>
<rect x="554.63" y="419.74" width="7.4" height="1.82" fill="#ff0000" stroke="#333" stroke-opacity="0.55" stroke-width="0.35"/>
<rect x="554.63" y="417.42" width="7.4" height="2.32" fill="#fff000" stroke="#333" stroke-opacity="0.55" stroke-width="0.35"/>
<rect x="554.63" y="407.00" width="7.4" height="10.42" fill="#808080" stroke="#333" stroke-opacity="0.55" stroke-width="0.35"/>
<rect x="554.63" y="407.00" width="7.4" height="165.40" fill="none" stroke="#444" stroke-width="0.6"/>
<line x1="558.33" y1="572.40" x2="558.33" y2="575.40" stroke="#3a3a3a" stroke-width="0.8"/>
<text x="558.33" y="582.80" font-size="5.6" text-anchor="middle" fill="#000000">WD</text>
<rect x="564.02" y="412.79" width="7.4" height="159.61" fill="#ff6600" stroke="#333" stroke-opacity="0.55" stroke-width="0.35"/>
<rect x="564.02" y="411.47" width="7.4" height="1.32" fill="#006030" stroke="#333" stroke-opacity="0.55" stroke-width="0.35"/>
<rect x="564.02" y="409.98" width="7.4" height="1.49" fill="#101018" stroke="#333" stroke-opacity="0.55" stroke-width="0.35"/>
<rect x="564.02" y="407.00" width="7.4" height="2.98" fill="#808080" stroke="#333" stroke-opacity="0.55" stroke-width="0.35"/>
<rect x="564.02" y="407.00" width="7.4" height="165.40" fill="none" stroke="#444" stroke-width="0.6"/>
<line x1="567.72" y1="572.40" x2="567.72" y2="575.40" stroke="#3a3a3a" stroke-width="0.8"/>
<text x="567.72" y="582.80" font-size="5.6" text-anchor="middle" fill="#000000">H</text>
<rect x="573.41" y="534.19" width="7.4" height="38.21" fill="#ff0000" stroke="#333" stroke-opacity="0.55" stroke-width="0.35"/>
<rect x="573.41" y="457.94" width="7.4" height="76.25" fill="#ff6600" stroke="#333" stroke-opacity="0.55" stroke-width="0.35"/>
<rect x="573.41" y="415.27" width="7.4" height="42.67" fill="#fff000" stroke="#333" stroke-opacity="0.55" stroke-width="0.35"/>
<rect x="573.41" y="413.78" width="7.4" height="1.49" fill="#4000ff" stroke="#333" stroke-opacity="0.55" stroke-width="0.35"/>
<rect x="573.41" y="412.79" width="7.4" height="0.99" fill="#00ff00" stroke="#333" stroke-opacity="0.55" stroke-width="0.35"/>
<rect x="573.41" y="409.98" width="7.4" height="2.81" fill="#200080" stroke="#333" stroke-opacity="0.55" stroke-width="0.35"/>
<rect x="573.41" y="407.00" width="7.4" height="2.98" fill="#808080" stroke="#333" stroke-opacity="0.55" stroke-width="0.35"/>
<rect x="573.41" y="407.00" width="7.4" height="165.40" fill="none" stroke="#444" stroke-width="0.6"/>
<line x1="577.11" y1="572.40" x2="577.11" y2="575.40" stroke="#3a3a3a" stroke-width="0.8"/>
<text x="577.11" y="582.80" font-size="5.6" text-anchor="middle" fill="#000000">H</text>
<rect x="582.80" y="535.02" width="7.4" height="37.38" fill="#ff0000" stroke="#333" stroke-opacity="0.55" stroke-width="0.35"/>
<rect x="582.80" y="490.03" width="7.4" height="44.99" fill="#ff6600" stroke="#333" stroke-opacity="0.55" stroke-width="0.35"/>
<rect x="582.80" y="441.24" width="7.4" height="48.79" fill="#fff000" stroke="#333" stroke-opacity="0.55" stroke-width="0.35"/>
<rect x="582.80" y="438.26" width="7.4" height="2.98" fill="#00ff00" stroke="#333" stroke-opacity="0.55" stroke-width="0.35"/>
<rect x="582.80" y="434.62" width="7.4" height="3.64" fill="#0080ff" stroke="#333" stroke-opacity="0.55" stroke-width="0.35"/>
<rect x="582.80" y="431.81" width="7.4" height="2.81" fill="#a000ff" stroke="#333" stroke-opacity="0.55" stroke-width="0.35"/>
<rect x="582.80" y="429.83" width="7.4" height="1.98" fill="#00ff00" stroke="#333" stroke-opacity="0.55" stroke-width="0.35"/>
<rect x="582.80" y="428.50" width="7.4" height="1.32" fill="#200080" stroke="#333" stroke-opacity="0.55" stroke-width="0.35"/>
<rect x="582.80" y="414.61" width="7.4" height="13.89" fill="#a000ff" stroke="#333" stroke-opacity="0.55" stroke-width="0.35"/>
<rect x="582.80" y="413.12" width="7.4" height="1.49" fill="#101018" stroke="#333" stroke-opacity="0.55" stroke-width="0.35"/>
<rect x="582.80" y="407.00" width="7.4" height="6.12" fill="#808080" stroke="#333" stroke-opacity="0.55" stroke-width="0.35"/>
<rect x="582.80" y="407.00" width="7.4" height="165.40" fill="none" stroke="#444" stroke-width="0.6"/>
<line x1="586.50" y1="572.40" x2="586.50" y2="575.40" stroke="#3a3a3a" stroke-width="0.8"/>
<text x="586.50" y="582.80" font-size="5.6" text-anchor="middle" fill="#000000">H</text>
<rect x="592.19" y="452.15" width="7.4" height="120.25" fill="#ff6600" stroke="#333" stroke-opacity="0.55" stroke-width="0.35"/>
<rect x="592.19" y="444.38" width="7.4" height="7.77" fill="#00ff00" stroke="#333" stroke-opacity="0.55" stroke-width="0.35"/>
<rect x="592.19" y="441.57" width="7.4" height="2.81" fill="#4000ff" stroke="#333" stroke-opacity="0.55" stroke-width="0.35"/>
<rect x="592.19" y="437.60" width="7.4" height="3.97" fill="#0080ff" stroke="#333" stroke-opacity="0.55" stroke-width="0.35"/>
<rect x="592.19" y="426.02" width="7.4" height="11.58" fill="#4000ff" stroke="#333" stroke-opacity="0.55" stroke-width="0.35"/>
<rect x="592.19" y="424.04" width="7.4" height="1.98" fill="#ff0000" stroke="#333" stroke-opacity="0.55" stroke-width="0.35"/>
<rect x="592.19" y="420.40" width="7.4" height="3.64" fill="#fff000" stroke="#333" stroke-opacity="0.55" stroke-width="0.35"/>
<rect x="592.19" y="418.91" width="7.4" height="1.49" fill="#00ff00" stroke="#333" stroke-opacity="0.55" stroke-width="0.35"/>
<rect x="592.19" y="407.00" width="7.4" height="11.91" fill="#808080" stroke="#333" stroke-opacity="0.55" stroke-width="0.35"/>
<rect x="592.19" y="407.00" width="7.4" height="165.40" fill="none" stroke="#444" stroke-width="0.6"/>
<line x1="595.89" y1="572.40" x2="595.89" y2="575.40" stroke="#3a3a3a" stroke-width="0.8"/>
<text x="595.89" y="582.80" font-size="5.6" text-anchor="middle" fill="#000000">H</text>
<rect x="601.58" y="417.75" width="7.4" height="154.65" fill="#ff6600" stroke="#333" stroke-opacity="0.55" stroke-width="0.35"/>
<rect x="601.58" y="415.77" width="7.4" height="1.98" fill="#00ff00" stroke="#333" stroke-opacity="0.55" stroke-width="0.35"/>
<rect x="601.58" y="413.12" width="7.4" height="2.65" fill="#4000ff" stroke="#333" stroke-opacity="0.55" stroke-width="0.35"/>
<rect x="601.58" y="411.96" width="7.4" height="1.16" fill="#ff0000" stroke="#333" stroke-opacity="0.55" stroke-width="0.35"/>
<rect x="601.58" y="409.48" width="7.4" height="2.48" fill="#fff000" stroke="#333" stroke-opacity="0.55" stroke-width="0.35"/>
<rect x="601.58" y="407.00" width="7.4" height="2.48" fill="#808080" stroke="#333" stroke-opacity="0.55" stroke-width="0.35"/>
<rect x="601.58" y="407.00" width="7.4" height="165.40" fill="none" stroke="#444" stroke-width="0.6"/>
<line x1="605.28" y1="572.40" x2="605.28" y2="575.40" stroke="#3a3a3a" stroke-width="0.8"/>
<text x="605.28" y="582.80" font-size="5.6" text-anchor="middle" fill="#000000">H</text>
<rect x="610.97" y="567.44" width="7.4" height="4.96" fill="#ff0000" stroke="#333" stroke-opacity="0.55" stroke-width="0.35"/>
<rect x="610.97" y="464.06" width="7.4" height="103.38" fill="#ff6600" stroke="#333" stroke-opacity="0.55" stroke-width="0.35"/>
<rect x="610.97" y="462.74" width="7.4" height="1.32" fill="#fff000" stroke="#333" stroke-opacity="0.55" stroke-width="0.35"/>
<rect x="610.97" y="458.27" width="7.4" height="4.47" fill="#00ff00" stroke="#333" stroke-opacity="0.55" stroke-width="0.35"/>
<rect x="610.97" y="455.46" width="7.4" height="2.81" fill="#a000ff" stroke="#333" stroke-opacity="0.55" stroke-width="0.35"/>
<rect x="610.97" y="453.97" width="7.4" height="1.49" fill="#00ff00" stroke="#333" stroke-opacity="0.55" stroke-width="0.35"/>
<rect x="610.97" y="449.34" width="7.4" height="4.63" fill="#0080ff" stroke="#333" stroke-opacity="0.55" stroke-width="0.35"/>
<rect x="610.97" y="435.78" width="7.4" height="13.56" fill="#4000ff" stroke="#333" stroke-opacity="0.55" stroke-width="0.35"/>
<rect x="610.97" y="427.34" width="7.4" height="8.44" fill="#ff0000" stroke="#333" stroke-opacity="0.55" stroke-width="0.35"/>
<rect x="610.97" y="422.55" width="7.4" height="4.80" fill="#fff000" stroke="#333" stroke-opacity="0.55" stroke-width="0.35"/>
<rect x="610.97" y="407.00" width="7.4" height="15.55" fill="#808080" stroke="#333" stroke-opacity="0.55" stroke-width="0.35"/>
<rect x="610.97" y="407.00" width="7.4" height="165.40" fill="none" stroke="#444" stroke-width="0.6"/>
<line x1="614.67" y1="572.40" x2="614.67" y2="575.40" stroke="#3a3a3a" stroke-width="0.8"/>
<text x="614.67" y="582.80" font-size="5.6" text-anchor="middle" fill="#000000">H</text>
<line x1="393.50" y1="406.60" x2="393.50" y2="572.85" stroke="#3a3a3a" stroke-width="1.1"/>
<line x1="393.05" y1="572.40" x2="618.87" y2="572.40" stroke="#3a3a3a" stroke-width="1.1"/>
<line x1="390.50" y1="572.40" x2="393.50" y2="572.40" stroke="#3a3a3a" stroke-width="1.1"/>
<text x="389.20" y="574.60" font-size="6.2" text-anchor="end" fill="#000000">0</text>
<line x1="390.50" y1="539.32" x2="393.50" y2="539.32" stroke="#3a3a3a" stroke-width="1.1"/>
<text x="389.20" y="541.52" font-size="6.2" text-anchor="end" fill="#000000">20</text>
<line x1="390.50" y1="506.24" x2="393.50" y2="506.24" stroke="#3a3a3a" stroke-width="1.1"/>
<text x="389.20" y="508.44" font-size="6.2" text-anchor="end" fill="#000000">40</text>
<line x1="390.50" y1="473.16" x2="393.50" y2="473.16" stroke="#3a3a3a" stroke-width="1.1"/>
<text x="389.20" y="475.36" font-size="6.2" text-anchor="end" fill="#000000">60</text>
<line x1="390.50" y1="440.08" x2="393.50" y2="440.08" stroke="#3a3a3a" stroke-width="1.1"/>
<text x="389.20" y="442.28" font-size="6.2" text-anchor="end" fill="#000000">80</text>
<line x1="390.50" y1="407.00" x2="393.50" y2="407.00" stroke="#3a3a3a" stroke-width="1.1"/>
<text x="389.20" y="409.20" font-size="6.2" text-anchor="end" fill="#000000">100</text>
<line x1="391.90" y1="555.86" x2="393.50" y2="555.86" stroke="#3a3a3a" stroke-width="1.1"/>
<line x1="391.90" y1="522.78" x2="393.50" y2="522.78" stroke="#3a3a3a" stroke-width="1.1"/>
<line x1="391.90" y1="489.70" x2="393.50" y2="489.70" stroke="#3a3a3a" stroke-width="1.1"/>
<line x1="391.90" y1="456.62" x2="393.50" y2="456.62" stroke="#3a3a3a" stroke-width="1.1"/>
<line x1="391.90" y1="423.54" x2="393.50" y2="423.54" stroke="#3a3a3a" stroke-width="1.1"/>
<text x="374.00" y="490.20" font-size="7.7" text-anchor="middle" fill="#000000" transform="rotate(-90 374.00 490.20)">Relative Frequency (%)</text>
<rect x="276.1" y="411.0" width="83.5" height="155.8" fill="#fff" stroke="#aaa" stroke-width="0.8"/>
<rect x="276.9" y="411.55" width="12.9" height="6.89" fill="#808080" stroke="#555" stroke-width="0.5"/>
<text x="292.00" y="417.20" font-size="6.1" text-anchor="start" fill="#000000">others</text>
<rect x="276.9" y="418.94" width="12.9" height="6.89" fill="#4000ff" stroke="#555" stroke-width="0.5"/>
<text x="292.00" y="424.59" font-size="6.1" text-anchor="start" fill="#000000">(u) Flavobacteriaceae</text>
<rect x="276.9" y="426.33" width="12.9" height="6.89" fill="#0080ff" stroke="#555" stroke-width="0.5"/>
<text x="292.00" y="431.98" font-size="6.1" text-anchor="start" fill="#000000" font-style="italic">Erythrobacter</text>
<rect x="276.9" y="433.72" width="12.9" height="6.89" fill="#00ff00" stroke="#555" stroke-width="0.5"/>
<text x="292.00" y="439.37" font-size="6.1" text-anchor="start" fill="#000000" font-style="italic">Aliiroseovarius</text>
<rect x="276.9" y="441.11" width="12.9" height="6.89" fill="#fff000" stroke="#555" stroke-width="0.5"/>
<text x="292.00" y="446.76" font-size="6.1" text-anchor="start" fill="#000000" font-style="italic">Psychrobacter</text>
<rect x="276.9" y="448.50" width="12.9" height="6.89" fill="#ff6600" stroke="#555" stroke-width="0.5"/>
<text x="292.00" y="454.15" font-size="6.1" text-anchor="start" fill="#000000" font-style="italic">Halioglobus</text>
<rect x="276.9" y="455.89" width="12.9" height="6.89" fill="#ff0000" stroke="#555" stroke-width="0.5"/>
<text x="292.00" y="461.54" font-size="6.1" text-anchor="start" fill="#000000" font-style="italic">Psychromonas</text>
<rect x="276.9" y="463.28" width="12.9" height="6.89" fill="#a000ff" stroke="#555" stroke-width="0.5"/>
<text x="292.00" y="468.93" font-size="6.1" text-anchor="start" fill="#000000" font-style="italic">Vibrio</text>
<rect x="276.9" y="470.67" width="12.9" height="6.89" fill="#4000ff" stroke="#555" stroke-width="0.5"/>
<text x="292.00" y="476.32" font-size="6.1" text-anchor="start" fill="#000000">(u) Sphingomonadaceae</text>
<rect x="276.9" y="478.06" width="12.9" height="6.89" fill="#0080ff" stroke="#555" stroke-width="0.5"/>
<text x="292.00" y="483.71" font-size="6.1" text-anchor="start" fill="#000000" font-style="italic">Poseidonibacter</text>
<rect x="276.9" y="485.45" width="12.9" height="6.89" fill="#00ff00" stroke="#555" stroke-width="0.5"/>
<text x="292.00" y="491.10" font-size="6.1" text-anchor="start" fill="#000000">(u) Flavobacteriaceae</text>
<rect x="276.9" y="492.85" width="12.9" height="6.89" fill="#fff000" stroke="#555" stroke-width="0.5"/>
<text x="292.00" y="498.49" font-size="6.1" text-anchor="start" fill="#000000" font-style="italic">Aurantivirga</text>
<rect x="276.9" y="500.24" width="12.9" height="6.89" fill="#ff6600" stroke="#555" stroke-width="0.5"/>
<text x="292.00" y="505.88" font-size="6.1" text-anchor="start" fill="#000000" font-style="italic">Pseudoalteromonas</text>
<rect x="276.9" y="507.63" width="12.9" height="6.89" fill="#ff0000" stroke="#555" stroke-width="0.5"/>
<text x="292.00" y="513.27" font-size="6.1" text-anchor="start" fill="#000000" font-style="italic">Amylibacter</text>
<rect x="276.9" y="515.02" width="12.9" height="6.89" fill="#a000ff" stroke="#555" stroke-width="0.5"/>
<text x="292.00" y="520.66" font-size="6.1" text-anchor="start" fill="#000000" font-style="italic">Algitalea</text>
<rect x="276.9" y="522.41" width="12.9" height="6.89" fill="#4000ff" stroke="#555" stroke-width="0.5"/>
<text x="292.00" y="528.05" font-size="6.1" text-anchor="start" fill="#000000" font-style="italic">Polaribacter</text>
<rect x="276.9" y="529.80" width="12.9" height="6.89" fill="#0080ff" stroke="#555" stroke-width="0.5"/>
<text x="292.00" y="535.44" font-size="6.1" text-anchor="start" fill="#000000" font-style="italic">Leucothrix</text>
<rect x="276.9" y="537.19" width="12.9" height="6.89" fill="#00ff00" stroke="#555" stroke-width="0.5"/>
<text x="292.00" y="542.83" font-size="6.1" text-anchor="start" fill="#000000">(u) Rhodobacteraceae</text>
<rect x="276.9" y="544.58" width="12.9" height="6.89" fill="#fff000" stroke="#555" stroke-width="0.5"/>
<text x="292.00" y="550.22" font-size="6.1" text-anchor="start" fill="#000000" font-style="italic">Tenacibaculum</text>
<rect x="276.9" y="551.97" width="12.9" height="6.89" fill="#ff6600" stroke="#555" stroke-width="0.5"/>
<text x="292.00" y="557.61" font-size="6.1" text-anchor="start" fill="#000000" font-style="italic">Wenyingzhuangia</text>
<rect x="276.9" y="559.36" width="12.9" height="6.89" fill="#ff0000" stroke="#555" stroke-width="0.5"/>
<text x="292.00" y="565.00" font-size="6.1" text-anchor="start" fill="#000000" font-style="italic">Olleya</text>
<rect x="625.2" y="411.0" width="58.6" height="155.8" fill="#fff" stroke="#aaa" stroke-width="0.8"/>
<rect x="626.0" y="411.55" width="13.1" height="6.89" fill="#808080" stroke="#555" stroke-width="0.5"/>
<text x="641.00" y="417.20" font-size="6.1" text-anchor="start" fill="#000000">others</text>
<rect x="626.0" y="418.94" width="13.1" height="6.89" fill="#4000ff" stroke="#555" stroke-width="0.5"/>
<text x="641.00" y="424.59" font-size="6.1" text-anchor="start" fill="#000000" font-style="italic">Sargassum</text>
<rect x="626.0" y="426.33" width="13.1" height="6.89" fill="#0080ff" stroke="#555" stroke-width="0.5"/>
<text x="641.00" y="431.98" font-size="6.1" text-anchor="start" fill="#000000" font-style="italic">Berkeleya</text>
<rect x="626.0" y="433.72" width="13.1" height="6.89" fill="#00ff00" stroke="#555" stroke-width="0.5"/>
<text x="641.00" y="439.37" font-size="6.1" text-anchor="start" fill="#000000">(u) Cercozoa</text>
<rect x="626.0" y="441.11" width="13.1" height="6.89" fill="#fff000" stroke="#555" stroke-width="0.5"/>
<text x="641.00" y="446.76" font-size="6.1" text-anchor="start" fill="#000000" font-style="italic">Melosira</text>
<rect x="626.0" y="448.50" width="13.1" height="6.89" fill="#ff6600" stroke="#555" stroke-width="0.5"/>
<text x="641.00" y="454.15" font-size="6.1" text-anchor="start" fill="#000000" font-style="italic">Anthoathecata</text>
<rect x="626.0" y="455.89" width="13.1" height="6.89" fill="#ff0000" stroke="#555" stroke-width="0.5"/>
<text x="641.00" y="461.54" font-size="6.1" text-anchor="start" fill="#000000">Alias</text>
<rect x="626.0" y="463.28" width="13.1" height="6.89" fill="#a000ff" stroke="#555" stroke-width="0.5"/>
<text x="641.00" y="468.93" font-size="6.1" text-anchor="start" fill="#000000" font-style="italic">(u) Eukaryota</text>
<rect x="626.0" y="470.67" width="13.1" height="6.89" fill="#4000ff" stroke="#555" stroke-width="0.5"/>
<text x="641.00" y="476.32" font-size="6.1" text-anchor="start" fill="#000000">Scytosiphon</text>
<rect x="626.0" y="478.06" width="13.1" height="6.89" fill="#0080ff" stroke="#555" stroke-width="0.5"/>
<text x="641.00" y="483.71" font-size="6.1" text-anchor="start" fill="#000000" font-style="italic">Thalassiosira</text>
<rect x="626.0" y="485.45" width="13.1" height="6.89" fill="#00ff00" stroke="#555" stroke-width="0.5"/>
<text x="641.00" y="491.10" font-size="6.1" text-anchor="start" fill="#000000">(u) Cercozoa</text>
<rect x="626.0" y="492.85" width="13.1" height="6.89" fill="#fff000" stroke="#555" stroke-width="0.5"/>
<text x="641.00" y="498.49" font-size="6.1" text-anchor="start" fill="#000000" font-style="italic">Tabularia</text>
<rect x="626.0" y="500.24" width="13.1" height="6.89" fill="#ff6600" stroke="#555" stroke-width="0.5"/>
<text x="641.00" y="505.88" font-size="6.1" text-anchor="start" fill="#000000" font-style="italic">Zosterodasys</text>
<rect x="626.0" y="507.63" width="13.1" height="6.89" fill="#ff0000" stroke="#555" stroke-width="0.5"/>
<text x="641.00" y="513.27" font-size="6.1" text-anchor="start" fill="#000000" font-style="italic">Ephelota</text>
<rect x="626.0" y="515.02" width="13.1" height="6.89" fill="#a000ff" stroke="#555" stroke-width="0.5"/>
<text x="641.00" y="520.66" font-size="6.1" text-anchor="start" fill="#000000" font-style="italic">Aplanochytrium</text>
<rect x="626.0" y="522.41" width="13.1" height="6.89" fill="#4000ff" stroke="#555" stroke-width="0.5"/>
<text x="641.00" y="528.05" font-size="6.1" text-anchor="start" fill="#000000" font-style="italic">Aspidisca</text>
<rect x="626.0" y="529.80" width="13.1" height="6.89" fill="#0080ff" stroke="#555" stroke-width="0.5"/>
<text x="641.00" y="535.44" font-size="6.1" text-anchor="start" fill="#000000" font-style="italic">Nitzschia</text>
<rect x="626.0" y="537.19" width="13.1" height="6.89" fill="#00ff00" stroke="#555" stroke-width="0.5"/>
<text x="641.00" y="542.83" font-size="6.1" text-anchor="start" fill="#000000" font-style="italic">Navicula</text>
<rect x="626.0" y="544.58" width="13.1" height="6.89" fill="#fff000" stroke="#555" stroke-width="0.5"/>
<text x="641.00" y="550.22" font-size="6.1" text-anchor="start" fill="#000000">Cyrtophoria</text>
<rect x="626.0" y="551.97" width="13.1" height="6.89" fill="#ff6600" stroke="#555" stroke-width="0.5"/>
<text x="641.00" y="557.61" font-size="6.1" text-anchor="start" fill="#000000" font-style="italic">Licmophora</text>
<rect x="626.0" y="559.36" width="13.1" height="6.89" fill="#ff0000" stroke="#555" stroke-width="0.5"/>
<text x="641.00" y="565.00" font-size="6.1" text-anchor="start" fill="#000000" font-style="italic">Pythium</text>
</g>
</svg>
</body></html>
